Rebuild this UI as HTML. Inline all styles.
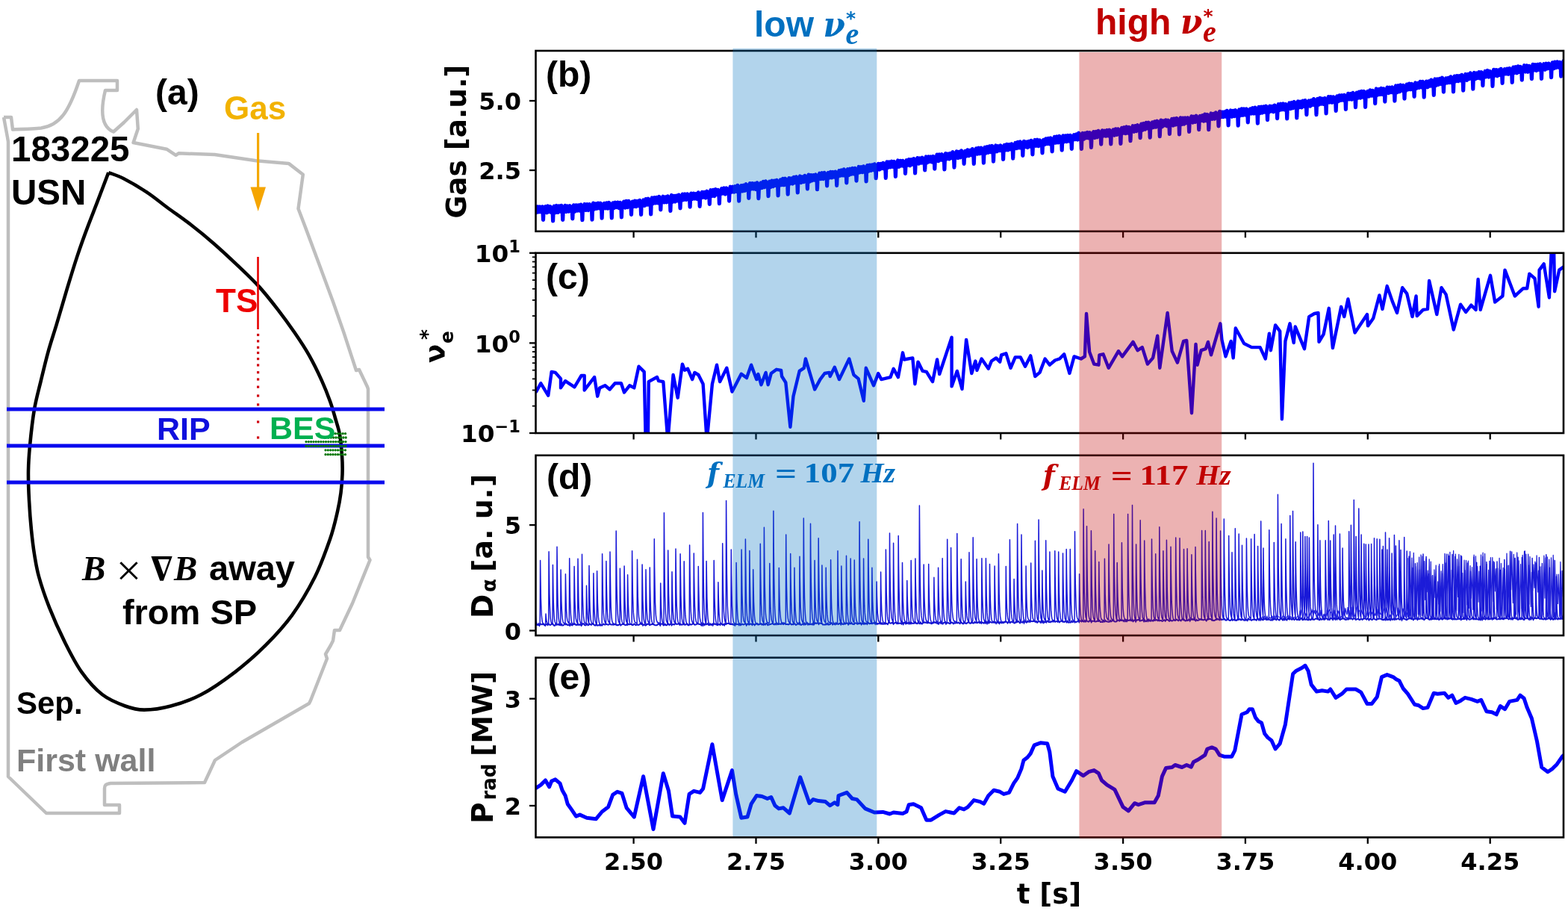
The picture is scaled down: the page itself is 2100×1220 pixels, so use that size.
<!DOCTYPE html>
<html><head><meta charset="utf-8"><title>Figure</title>
<style>html,body{margin:0;padding:0;background:#fff;}svg{display:block;}</style>
</head><body>
<svg width="2100" height="1220" viewBox="0 0 2100 1220">
<defs><clipPath id="clipb"><rect x="717.5" y="68" width="1376.5" height="241.8"/></clipPath>
<clipPath id="clipc"><rect x="717.5" y="338.8" width="1376.5" height="241.2"/></clipPath>
<clipPath id="clipd"><rect x="717.5" y="609.8" width="1376.5" height="241.2"/></clipPath>
<clipPath id="clipe"><rect x="717.5" y="880.7" width="1376.5" height="240.7"/></clipPath></defs>
<rect width="2100" height="1220" fill="#fff"/>
<path d="M5,157 L15,157 L17,173.5 C30,173 45,172.5 55,171.5 C80,168 92,150 106,108 L157,108 L157,121 L141,121 C134,150 136,170 152,176.5 L166,164 L183,147 L184.8,172.5 L178.6,191 L223.1,199.7 L235.5,207.8 L239.2,205.3 L287.5,207.1 L343.2,215.2 L386.6,218.9 L405.8,233.8 L399.5,279.5 L408.7,303.6 L426,350 L446,404 L460,444 L477,496 L481,495 L492,518 L493,521 L493,746 L495.5,750 L472,808 L455,844 L448,844 L446,858 L443,864 L436,876 L438,882 L416,938 L414,942 L324,994 L288,1018 L274,1048 L148,1049 C141,1050 140,1052 140,1056 L140,1078 L160,1078 L160,1089 L62,1089 L11,1040 L11,190 L10,184 L5,157" fill="none" stroke="#bebebe" stroke-width="4.5" stroke-linejoin="round"/>
<path d="M145.3,231.1 C148.8,232.5 157.6,235.1 166.2,239.5 C174.8,243.9 187.1,251.1 196.9,257.6 C206.7,264.1 215.1,271.3 224.8,278.5 C234.6,285.7 245.2,292.9 255.4,300.8 C265.6,308.7 275.4,316.6 286.1,325.9 C296.8,335.2 309.3,346.9 319.5,356.6 C329.7,366.4 338.6,374.6 347.4,384.4 C356.2,394.1 364.6,404.9 372.5,415.1 C380.4,425.3 387.8,435.6 394.8,445.8 C401.8,456 408.3,465.7 414.3,476.4 C420.3,487.1 426.4,499.7 431,509.9 C435.6,520.1 439.2,529.4 442.2,537.7 C445.2,546.1 446.9,552.6 449,560 C451.1,567.4 453.5,573.7 455,582 C456.5,590.3 457.4,601.2 458,610 C458.6,618.8 458.8,626.7 458.5,635 C458.2,643.3 457.6,651.7 456.5,660 C455.4,668.3 454.4,674.7 452,685 C449.6,695.3 447.1,707.4 442,722 C436.9,736.6 430.1,755.9 421.7,772.8 C413.2,789.7 402.3,808.4 391.3,823.6 C380.3,838.8 368.4,851.5 355.7,864.2 C343,876.9 329.4,888.8 315,899.8 C300.6,910.8 283.7,922.7 269.3,930.3 C254.9,937.9 241.4,942.1 228.7,945.5 C216,948.9 203.3,950.6 193.1,950.6 C182.9,950.6 177,948.9 167.7,945.5 C158.4,942.1 146.9,937.9 137.2,930.3 C127.4,922.7 117.7,911.7 109.2,899.8 C100.7,887.9 93.6,873.5 86.4,859.1 C79.2,844.7 71.7,827.9 66,813.4 C60.3,798.9 55.3,783.9 52,772 C48.7,760.1 47.7,752.3 46,742 C44.3,731.7 43.2,722 42,710 C40.8,698 39.7,683.3 39,670 C38.3,656.7 37.8,642.2 38,630 C38.2,617.8 38.7,610.7 40,597 C41.3,583.3 43.5,562.5 46,548 C48.5,533.5 51.7,522.8 54.8,509.9 C57.9,497 61.1,483.4 64.6,470.8 C68.1,458.2 71.5,448.5 75.7,434.6 C79.9,420.7 85.1,402.5 89.7,387.2 C94.3,371.9 99,356.5 103.6,342.6 C108.2,328.7 112.8,316.1 117.5,303.6 C122.2,291.1 126.9,279.5 131.5,267.4 C136.1,255.3 143,237.1 145.3,231.1" fill="none" stroke="#000" stroke-width="4.6" stroke-linejoin="miter"/>
<line x1="9" y1="548" x2="515" y2="548" stroke="#0a0aee" stroke-width="5"/>
<line x1="9" y1="597" x2="515" y2="597" stroke="#0a0aee" stroke-width="5"/>
<line x1="9" y1="646" x2="515" y2="646" stroke="#0a0aee" stroke-width="5"/>
<line x1="345.5" y1="344" x2="345.5" y2="441" stroke="#e80000" stroke-width="2.6"/>
<rect x="344" y="446.9" width="3.2" height="3.2" fill="#d00010"/>
<rect x="344" y="455.3" width="3.2" height="3.2" fill="#d00010"/>
<rect x="344" y="463.7" width="3.2" height="3.2" fill="#d00010"/>
<rect x="344" y="470.9" width="3.2" height="3.2" fill="#d00010"/>
<rect x="344" y="479" width="3.2" height="3.2" fill="#d00010"/>
<rect x="344" y="487.4" width="3.2" height="3.2" fill="#d00010"/>
<rect x="344" y="497.1" width="3.2" height="3.2" fill="#d00010"/>
<rect x="344" y="506.4" width="3.2" height="3.2" fill="#d00010"/>
<rect x="344" y="516.6" width="3.2" height="3.2" fill="#d00010"/>
<rect x="344" y="528.4" width="3.2" height="3.2" fill="#d00010"/>
<rect x="344" y="540.3" width="3.2" height="3.2" fill="#d00010"/>
<rect x="344" y="563.4" width="3.2" height="3.2" fill="#d00010"/>
<rect x="344" y="584.4" width="3.2" height="3.2" fill="#d00010"/>
<line x1="345.6" y1="178" x2="345.6" y2="254" stroke="#f4a800" stroke-width="3.2"/>
<polygon points="335.5,250.5 356,250.5 345.7,283" fill="#f5a500"/>
<line x1="446" y1="580.7" x2="463.5" y2="580.7" stroke="#0a780a" stroke-width="3.3" stroke-linecap="round" stroke-dasharray="0.01 3.3"/>
<line x1="440" y1="586" x2="463.5" y2="586" stroke="#0a780a" stroke-width="3.3" stroke-linecap="round" stroke-dasharray="0.01 3.3"/>
<line x1="410" y1="591.6" x2="463.5" y2="591.6" stroke="#0a780a" stroke-width="3.3" stroke-linecap="round" stroke-dasharray="0.01 3.3"/>
<line x1="410" y1="597.3" x2="463.5" y2="597.3" stroke="#0a780a" stroke-width="3.3" stroke-linecap="round" stroke-dasharray="0.01 3.3"/>
<line x1="436" y1="602.8" x2="463.5" y2="602.8" stroke="#0a780a" stroke-width="3.3" stroke-linecap="round" stroke-dasharray="0.01 3.3"/>
<line x1="436" y1="608.7" x2="463.5" y2="608.7" stroke="#0a780a" stroke-width="3.3" stroke-linecap="round" stroke-dasharray="0.01 3.3"/>
<text x="208" y="140" style="font-family:'Liberation Sans',Arial,sans-serif;font-weight:bold;font-size:48px" fill="#000">(a)</text>
<text x="300" y="160" style="font-family:'Liberation Sans',Arial,sans-serif;font-weight:bold;font-size:44px" fill="#f2b200">Gas</text>
<text x="15" y="216" style="font-family:'Liberation Sans',Arial,sans-serif;font-weight:bold;font-size:47.5px" fill="#000">183225</text>
<text x="15" y="274" style="font-family:'Liberation Sans',Arial,sans-serif;font-weight:bold;font-size:47.5px" fill="#000">USN</text>
<text x="289" y="418" style="font-family:'Liberation Sans',Arial,sans-serif;font-weight:bold;font-size:44px" fill="#ee0000">TS</text>
<text x="210" y="589" style="font-family:'Liberation Sans',Arial,sans-serif;font-weight:bold;font-size:43px" fill="#1010dd">RIP</text>
<text x="361" y="588" style="font-family:'Liberation Sans',Arial,sans-serif;font-weight:bold;font-size:43px" fill="#00b050">BES</text>
<text x="110" y="777" style="font-family:'Liberation Serif','DejaVu Serif',serif;font-style:italic;font-weight:bold;font-size:47px">B</text>
<text x="172.5" y="783.5" text-anchor="middle" style="font-family:'Liberation Serif','DejaVu Serif',serif;font-size:60px">×</text>
<text transform="translate(216.5,778) scale(-0.88,1)" text-anchor="middle" style="font-family:'DejaVu Serif',serif;font-weight:bold;font-size:45px">∇</text>
<text x="233" y="777" style="font-family:'Liberation Serif','DejaVu Serif',serif;font-style:italic;font-weight:bold;font-size:47px">B</text>
<text x="280" y="777" style="font-family:'Liberation Sans',Arial,sans-serif;font-weight:bold;font-size:47px">away</text>
<text x="254" y="836" text-anchor="middle" style="font-family:'Liberation Sans',Arial,sans-serif;font-weight:bold;font-size:47px" fill="#000">from SP</text>
<text x="22" y="956" style="font-family:'Liberation Sans',Arial,sans-serif;font-weight:bold;font-size:42px" fill="#000">Sep.</text>
<text x="22" y="1033" style="font-family:'Liberation Sans',Arial,sans-serif;font-weight:bold;font-size:43px" fill="#808080">First wall</text>
<g clip-path="url(#clipb)"><polyline points="712,284.5 713.6,276.6 715.2,285 716.8,276.5 718.4,284.8 720,276.9 721.6,283.9 723.2,277 724.8,283.8 726.4,276.8 726.9,280.6 727.5,294.4 728.1,280.6 729.1,283.7 730.7,276.6 732.3,284.8 733.9,276 735.5,283.7 737.1,276.7 738.7,284.8 740,280.2 740.6,296 741.2,280.2 742.2,276.2 743.8,284.7 745.4,275.5 747,284.4 748.6,275.8 750.2,283.1 751.8,275.4 753.1,279.8 753.7,294.5 754.3,279.8 755.3,284 756.9,275.3 758.5,283.5 760.1,276 761.7,283.1 763.3,275.7 764.9,282.5 766.2,279.3 766.8,293 767.4,279.3 768.4,274.9 770,283.1 771.6,274.9 773.2,282.2 774.8,274.9 776.4,282.1 778,274.1 779.3,278 779.9,294.7 780.5,278 781.5,282 783.1,273.5 784.7,281.4 786.3,273.6 787.9,281.6 789.5,273.6 791.1,280.3 792.4,276.7 793,294.1 793.6,276.7 794.6,272.1 796.2,280 797.8,272.8 799.4,279.3 801,272.1 802.6,278.9 804.2,272.2 805.5,275.7 806.1,292.2 806.7,275.7 807.7,279.5 809.3,272.3 810.9,278.9 812.5,271.8 814.1,279.2 815.7,271.5 817.3,278.8 818.7,275 819.3,291.8 819.9,275 820.9,271.8 822.5,278.5 824.1,271.2 825.7,277.7 827.3,271.1 828.9,278.5 830.5,271.3 831.8,274.3 832.4,291 833,274.3 834,277.6 835.6,270.1 837.2,278.1 838.8,269.3 840.4,277.6 842,269.4 843.6,276.8 844.9,273.5 845.5,287.3 846.1,273.5 847.1,270.1 848.7,276.6 850.3,269.1 851.9,276.6 853.5,269.5 855.1,275.6 856.7,268.3 858,271.8 858.6,287.5 859.2,271.8 860.2,276 861.8,268 863.4,275.4 865,266.6 866.6,274.2 868.2,266.2 869.8,274.4 871.1,269.6 871.7,287 872.3,269.6 873.3,265 874.9,272.4 876.5,264.6 878.1,271.9 879.7,264.4 881.3,271.9 882.9,263.5 884.2,267.5 884.8,281 885.4,267.5 886.4,271 888,263.2 889.6,270.9 891.2,263.8 892.8,270.8 894.4,262.8 896,270.4 897.3,266.2 897.9,282.4 898.5,266.2 899.5,261.5 901.1,270.3 902.7,262.4 904.3,270 905.9,262.1 907.5,268.9 909.1,261.1 910.4,264.9 911,278.8 911.6,264.9 912.6,268.8 914.2,260.1 915.8,267.5 917.4,260 919,267.4 920.6,259.9 922.2,266.9 923.5,263.6 924.1,277.1 924.7,263.6 925.7,259.1 927.3,266.4 928.9,259.1 930.5,266 932.1,259.6 933.7,266.5 935.3,257.9 936.6,261.9 937.2,276.4 937.8,261.9 938.8,265.2 940.4,257.3 942,264.2 943.6,257.5 945.2,265 946.8,256.2 948.4,263.6 949.7,259.4 950.3,273.3 950.9,259.4 951.9,254.7 953.5,262.4 955.1,254.4 956.7,262.6 958.3,253.6 959.9,260.7 961.5,254.3 962.8,257 963.4,272.6 964,257 965,259.9 966.6,252.6 968.2,259.1 969.8,252 971.4,260 973,252 974.6,259 976,254.5 976.6,269.1 977.2,254.5 978.2,250.2 979.8,257.2 981.4,250.2 983,257.2 984.6,249.7 986.2,256.4 987.8,248.4 989.1,252.3 989.7,269.1 990.3,252.3 991.3,256.7 992.9,248.6 994.5,255.9 996.1,248.1 997.7,255.3 999.3,246.7 1000.9,254.5 1002.2,250.4 1002.8,265.3 1003.4,250.4 1004.4,245.6 1006,253 1007.6,245.6 1009.2,252.9 1010.8,245.8 1012.4,253.5 1014,244.9 1015.3,248.5 1015.9,265.7 1016.5,248.5 1017.5,252.8 1019.1,245 1020.7,251.4 1022.3,243.3 1023.9,250.7 1025.5,242.8 1027.1,250.2 1028.4,246.6 1029,262.6 1029.6,246.6 1030.6,243.2 1032.2,250.5 1033.8,242.1 1035.4,249.7 1037,242.1 1038.6,248.3 1040.2,241.4 1041.5,244.7 1042.1,261.8 1042.7,244.7 1043.7,248.7 1045.3,240.8 1046.9,247.7 1048.5,239.4 1050.1,247.8 1051.7,239.2 1053.3,247.3 1054.6,242.8 1055.2,260.1 1055.8,242.8 1056.8,238.6 1058.4,245.9 1060,239 1061.6,246 1063.2,237.3 1064.8,244.6 1066.4,236.8 1067.7,240.8 1068.3,258 1068.9,240.8 1069.9,244.9 1071.5,236 1073.1,244.5 1074.7,236.9 1076.3,243.7 1077.9,235.4 1079.5,243.1 1080.8,238.9 1081.4,253 1082,238.9 1083,234.1 1084.6,243 1086.2,234.6 1087.8,241.8 1089.4,234.6 1091,241.2 1092.6,234 1093.9,236.9 1094.5,253.7 1095.1,236.9 1096.1,240 1097.7,232.2 1099.3,239.7 1100.9,231.7 1102.5,239.6 1104.1,231.3 1105.7,238.9 1107,234.9 1107.6,248.9 1108.2,234.9 1109.2,231.5 1110.8,238 1112.4,230.3 1114,237.9 1115.6,230.5 1117.2,237.1 1118.8,230.1 1120.1,232.9 1120.7,248.4 1121.3,232.9 1122.3,236.5 1123.9,228.6 1125.5,235.2 1127.1,228 1128.7,234.9 1130.3,226.8 1131.9,235.4 1133.2,230.8 1133.8,245 1134.4,230.8 1135.4,226.7 1137,234.4 1138.6,226.2 1140.2,233.1 1141.8,225.5 1143.4,232.9 1145,225.3 1146.4,228.3 1147,242.2 1147.6,228.3 1148.6,231.9 1150.2,223.5 1151.8,230.8 1153.4,223.7 1155,230.6 1156.6,222.8 1158.2,230.4 1159.5,225.8 1160.1,242.9 1160.7,225.8 1161.7,221.6 1163.3,229.2 1164.9,221.1 1166.5,228.4 1168.1,220.8 1169.7,227.7 1171.3,219.9 1172.6,223.3 1173.2,238.7 1173.8,223.3 1174.8,227.6 1176.4,219.4 1178,227 1179.6,219.3 1181.2,225.6 1182.8,218.3 1184.4,226.3 1185.7,221.5 1186.3,238.4 1186.9,221.5 1187.9,216.9 1189.5,224.3 1191.1,217 1192.7,223.8 1194.3,216.2 1195.9,223.4 1197.5,216.5 1198.8,219.8 1199.4,236.4 1200,219.8 1201,224 1202.6,215 1204.2,223.3 1205.8,215.4 1207.4,221.9 1209,215.3 1210.6,222.8 1211.9,218 1212.5,232.4 1213.1,218 1214.1,214.7 1215.7,221.2 1217.3,213.6 1218.9,221.8 1220.5,213.7 1222.1,220 1223.7,212.6 1225,216.3 1225.6,231.8 1226.2,216.3 1227.2,219.6 1228.8,211.6 1230.4,219.2 1232,212 1233.6,218.2 1235.2,211.2 1236.8,218.4 1238.1,214.4 1238.7,227.9 1239.3,214.4 1240.3,210 1241.9,217.8 1243.5,209.8 1245.1,216.4 1246.7,210 1248.3,217 1249.9,209.5 1251.2,212.2 1251.8,226.1 1252.4,212.2 1253.4,215.4 1255,207.1 1256.6,215.7 1258.2,207 1259.8,214.1 1261.4,206.7 1263,214.8 1264.3,210.1 1264.9,226.8 1265.5,210.1 1266.5,205.6 1268.1,212.8 1269.7,206.1 1271.3,212.9 1272.9,205.3 1274.5,211.6 1276.1,203.7 1277.4,207.9 1278,224.2 1278.6,207.9 1279.6,211.3 1281.2,202.9 1282.8,211.6 1284.4,203.3 1286,210.9 1287.6,201.9 1289.2,210.4 1290.5,205.8 1291.1,219.5 1291.7,205.8 1292.7,202.3 1294.3,209 1295.9,200.9 1297.5,208.6 1299.1,201.3 1300.7,207.6 1302.3,199.6 1303.7,203.7 1304.3,219.3 1304.9,203.7 1305.9,206.8 1307.5,198.8 1309.1,206.2 1310.7,198.2 1312.3,205.8 1313.9,198.1 1315.5,205.5 1316.8,201.7 1317.4,218.2 1318,201.7 1319,197.3 1320.6,205 1322.2,196.7 1323.8,204.3 1325.4,195.9 1327,203.7 1328.6,195.5 1329.9,199.8 1330.5,216.2 1331.1,199.8 1332.1,203.4 1333.7,195 1335.3,202.8 1336.9,195.7 1338.5,201.7 1340.1,195 1341.7,201.8 1343,197.8 1343.6,213.3 1344.2,197.8 1345.2,194.3 1346.8,200.9 1348.4,193.3 1350,200.9 1351.6,193.6 1353.2,199.9 1354.8,192.9 1356.1,195.8 1356.7,212.2 1357.3,195.8 1358.3,199.6 1359.9,191.4 1361.5,198.7 1363.1,190.4 1364.7,197.9 1366.3,189.9 1367.9,198.4 1369.2,193.9 1369.8,208.5 1370.4,193.9 1371.4,189.4 1373,196.7 1374.6,190.1 1376.2,197.5 1377.8,189.4 1379.4,196.1 1381,188.3 1382.3,192.2 1382.9,206.9 1383.5,192.2 1384.5,195.8 1386.1,187.5 1387.7,195.3 1389.3,187.2 1390.9,195.7 1392.5,187.9 1394.1,194.6 1395.4,190.5 1396,205 1396.6,190.5 1397.6,187.3 1399.2,193.6 1400.8,185.8 1402.4,192.6 1404,185.4 1405.6,192.8 1407.2,185 1408.5,188.5 1409.1,202.8 1409.7,188.5 1410.7,192.1 1412.3,183.4 1413.9,191.2 1415.5,183 1417.1,190.9 1418.7,182.4 1420.3,189.7 1421.6,186.4 1422.2,201.1 1422.8,186.4 1423.8,181.9 1425.4,189.8 1427,181.9 1428.6,189.6 1430.2,181.5 1431.8,189 1433.4,181.4 1434.7,184.3 1435.3,199.3 1435.9,184.3 1436.9,187.5 1438.5,180.7 1440.1,186.7 1441.7,179.8 1443.3,187 1444.9,178.2 1446.5,186.8 1447.8,182.3 1448.4,199.3 1449,182.3 1450,178.5 1451.6,186.1 1453.2,178.4 1454.8,184.7 1456.4,177.5 1458,184.9 1459.6,177.7 1460.9,180.7 1461.5,197.4 1462.1,180.7 1463.1,184.8 1464.7,176.6 1466.3,184.5 1467.9,176.4 1469.5,183.8 1471.1,175.3 1472.7,182.4 1474.1,179.1 1474.7,193.1 1475.3,179.1 1476.3,174.9 1477.9,181.9 1479.5,175.2 1481.1,182.2 1482.7,174.5 1484.3,181.9 1485.9,174.2 1487.2,177.5 1487.8,192.9 1488.4,177.5 1489.4,180.3 1491,173.8 1492.6,181.1 1494.2,172.9 1495.8,180.4 1497.4,172.8 1499,179.2 1500.3,175.8 1500.9,192.3 1501.5,175.8 1502.5,171.3 1504.1,178.3 1505.7,170.7 1507.3,178.7 1508.9,170 1510.5,178.1 1512.1,170.5 1513.4,173.2 1514,188.7 1514.6,173.2 1515.6,176.5 1517.2,168.7 1518.8,176.3 1520.4,168.6 1522,175.6 1523.6,167.7 1525.2,174.1 1526.5,170.6 1527.1,184.7 1527.7,170.6 1528.7,166.1 1530.3,174.1 1531.9,165.5 1533.5,173.2 1535.1,164.4 1536.7,171.8 1538.3,164.2 1539.6,168 1540.2,184.1 1540.8,168 1541.8,171.7 1543.4,163.8 1545,170.5 1546.6,162.9 1548.2,170.1 1549.8,162.2 1551.4,169 1552.7,165.6 1553.3,182.7 1553.9,165.6 1554.9,161.1 1556.5,169.8 1558.1,161.9 1559.7,167.9 1561.3,160.8 1562.9,168.8 1564.5,161.2 1565.8,164 1566.4,179.3 1567,164 1568,167.3 1569.6,159.4 1571.2,168 1572.8,159 1574.4,167 1576,158.5 1577.6,166.5 1578.9,162.5 1579.5,179.8 1580.1,162.5 1581.1,157.9 1582.7,166.4 1584.3,158.1 1585.9,166.1 1587.5,158 1589.1,164.7 1590.7,157.9 1592,160.9 1592.6,176.3 1593.2,160.9 1594.2,163.7 1595.8,155.9 1597.4,164.1 1599,156.2 1600.6,163.4 1602.2,155.2 1603.8,162.9 1605.1,159 1605.7,173.7 1606.3,159 1607.3,155.4 1608.9,161.4 1610.5,154.7 1612.1,162.1 1613.7,153.1 1615.3,161.7 1616.9,153.5 1618.2,156.6 1618.8,173.7 1619.4,156.6 1620.4,159.8 1622,152 1623.6,159.3 1625.2,152.4 1626.8,159.1 1628.4,150.8 1630,158.2 1631.4,154.2 1632,168.8 1632.6,154.2 1633.6,149.4 1635.2,156.8 1636.8,150.1 1638.4,156.6 1640,149.9 1641.6,156.2 1643.2,148.4 1644.5,152.4 1645.1,167.9 1645.7,152.4 1646.7,155.5 1648.3,148 1649.9,156.3 1651.5,148.4 1653.1,155.7 1654.7,147.7 1656.3,155.5 1657.6,150.8 1658.2,168.1 1658.8,150.8 1659.8,146.9 1661.4,154.6 1663,145.8 1664.6,154.3 1666.2,146 1667.8,153.9 1669.4,146 1670.7,149.3 1671.3,164 1671.9,149.3 1672.9,152.2 1674.5,145.8 1676.1,152 1677.7,144.7 1679.3,152 1680.9,144.1 1682.5,152.2 1683.8,147.8 1684.4,165.2 1685,147.8 1686,143.4 1687.6,151.5 1689.2,143.1 1690.8,151 1692.4,142.9 1694,150 1695.6,142.2 1696.9,146.3 1697.5,160.6 1698.1,146.3 1699.1,150.6 1700.7,142.1 1702.3,149 1703.9,142.3 1705.5,149.8 1707.1,141.1 1708.7,147.9 1710,144.4 1710.6,158.7 1711.2,144.4 1712.2,139.7 1713.8,147.5 1715.4,139.2 1717,146.8 1718.6,139 1720.2,146.9 1721.8,139.6 1723.1,142.5 1723.7,159 1724.3,142.5 1725.3,145.9 1726.9,138 1728.5,145.6 1730.1,137.5 1731.7,144.8 1733.3,136.5 1734.9,144.2 1736.2,140.5 1736.8,157.9 1737.4,140.5 1738.4,135.9 1740,143.8 1741.6,136.2 1743.2,143.9 1744.8,135.1 1746.4,142.5 1748,134.6 1749.3,138.5 1749.9,153.6 1750.5,138.5 1751.5,142 1753.1,135 1754.7,142.2 1756.3,134.4 1757.9,140.4 1759.5,132.6 1761.1,141 1762.4,136.6 1763,153.7 1763.6,136.6 1764.6,132.5 1766.2,140.1 1767.8,131.3 1769.4,139.2 1771,132.2 1772.6,139.4 1774.2,131.6 1775.5,134.5 1776.1,151.9 1776.7,134.5 1777.7,137.7 1779.3,129.6 1780.9,137 1782.5,129.7 1784.1,137.3 1785.7,129.9 1787.3,136.9 1788.6,132.4 1789.2,148.5 1789.8,132.4 1790.8,128.8 1792.4,135.6 1794,127.9 1795.6,134.4 1797.2,127.7 1798.8,134.2 1800.4,127.4 1801.8,130.3 1802.4,146.4 1803,130.3 1804,133.5 1805.6,125.4 1807.2,132.9 1808.8,125.6 1810.4,133.1 1812,124.3 1813.6,131.6 1814.9,128.1 1815.5,143.7 1816.1,128.1 1817.1,124.2 1818.7,131.2 1820.3,123.1 1821.9,131.1 1823.5,122.3 1825.1,130.1 1826.7,122.5 1828,126 1828.6,143.4 1829.2,126 1830.2,129.8 1831.8,122.3 1833.4,129 1835,120.8 1836.6,128.1 1838.2,121.4 1839.8,128.3 1841.1,123.9 1841.7,138.6 1842.3,123.9 1843.3,119 1844.9,127.1 1846.5,119.6 1848.1,126.5 1849.7,118.4 1851.3,126.4 1852.9,118.9 1854.2,121.7 1854.8,136.1 1855.4,121.7 1856.4,124.5 1858,117.1 1859.6,124.6 1861.2,117.2 1862.8,123.7 1864.4,116.8 1866,124.1 1867.3,119.6 1867.9,135.1 1868.5,119.6 1869.5,115 1871.1,123.6 1872.7,114.7 1874.3,122.8 1875.9,114 1877.5,121.3 1879.1,114.3 1880.4,117.4 1881,132.1 1881.6,117.4 1882.6,121.7 1884.2,113.1 1885.8,119.9 1887.4,112.1 1889,119.8 1890.6,112.3 1892.2,120.1 1893.5,115.3 1894.1,129.4 1894.7,115.3 1895.7,111 1897.3,118.1 1898.9,111.4 1900.5,117.4 1902.1,109.4 1903.7,116.8 1905.3,109.4 1906.6,113 1907.2,130.1 1907.8,113 1908.8,117.2 1910.4,109.1 1912,116.8 1913.6,108.8 1915.2,115.2 1916.8,107.1 1918.4,115.6 1919.7,110.8 1920.3,127.3 1920.9,110.8 1921.9,106 1923.5,114.3 1925.1,106 1926.7,113.3 1928.3,105.3 1929.9,112.4 1931.5,104.2 1932.8,108.5 1933.4,123.1 1934,108.5 1935,111.8 1936.6,104.9 1938.2,110.9 1939.8,104.3 1941.4,110.5 1943,102.8 1944.6,110.9 1945.9,106.2 1946.5,123 1947.1,106.2 1948.1,102.1 1949.7,108.8 1951.3,101.6 1952.9,108.7 1954.5,101.7 1956.1,107.9 1957.7,100.3 1959.1,104 1959.7,121.1 1960.3,104 1961.3,106.7 1962.9,99.5 1964.5,107.4 1966.1,99.5 1967.7,105.7 1969.3,97.8 1970.9,105.3 1972.2,101.9 1972.8,119.1 1973.4,101.9 1974.4,97.5 1976,105.6 1977.6,98 1979.2,104.5 1980.8,96.6 1982.4,105 1984,96.7 1985.3,100 1985.9,114.6 1986.5,100 1987.5,103.9 1989.1,95.5 1990.7,102.8 1992.3,94.5 1993.9,103.1 1995.5,95.5 1997.1,102.4 1998.4,98.1 1999,115.4 1999.6,98.1 2000.6,93.4 2002.2,101.1 2003.8,93.6 2005.4,101.8 2007,93.9 2008.6,100.4 2010.2,92.4 2011.5,96.3 2012.1,111.5 2012.7,96.3 2013.7,99.8 2015.3,92.7 2016.9,98.9 2018.5,92.1 2020.1,99.3 2021.7,91.6 2023.3,98.9 2024.6,94.4 2025.2,110.3 2025.8,94.4 2026.8,90.1 2028.4,97.5 2030,89.7 2031.6,97.8 2033.2,88.8 2034.8,96.4 2036.4,89.5 2037.7,92.7 2038.3,107.2 2038.9,92.7 2039.9,95.6 2041.5,87.7 2043.1,96 2044.7,87.8 2046.3,96.3 2047.9,88.3 2049.5,95.9 2050.8,91.1 2051.4,105.7 2052,91.1 2053,86.4 2054.6,93.9 2056.2,86.7 2057.8,94.5 2059.4,86.3 2061,93.3 2062.6,85.8 2063.9,89.5 2064.5,105.5 2065.1,89.5 2066.1,93.4 2067.7,85.7 2069.3,93.3 2070.9,85.2 2072.5,91.8 2074.1,85.1 2075.7,91.7 2077,88 2077.6,103.7 2078.2,88 2079.2,83.8 2080.8,91.8 2082.4,83.1 2084,90.6 2085.6,82.8 2087.2,90.1 2088.8,83.4 2090.1,86.4 2090.7,102.2 2091.3,86.4 2092.3,89.7 2093.9,82 2095.5,90.6 2097.1,82.2 2098.7,89.4" fill="none" stroke="#0000ff" stroke-width="5.2" stroke-linejoin="round" stroke-linecap="round"/></g>
<g clip-path="url(#clipc)"><polyline points="712,526 718.2,524.5 724.3,513.3 734.2,529.6 738.7,497.9 743.8,498.9 751,507.1 751,519.4 757.1,510.2 769.4,518.4 778.6,503 782.7,503 782.7,522.5 796.1,505.1 800.2,530.7 803.2,519.4 810.4,516.3 816.6,521.5 823.7,513.3 831.9,513.3 836,525.5 843.2,516.3 849.3,519.4 855.5,490.7 862.7,497.9 864.7,590 867.8,590 868.8,511.2 880,505 882.1,510.2 888.3,511.2 894.4,590 901.6,502 907.7,532.7 913.9,487.6 917,495.8 921.1,493.8 927.2,508.1 930.3,498.9 935.4,502 941.6,514.3 946.7,590 953.9,514.3 960,488.7 964.1,511.2 973.3,492.8 980.5,524.5 992.8,500.8 1000,506.1 1006.1,488.7 1010.2,500 1013.3,508.1 1015.4,501 1019.5,515.3 1025.6,498.9 1028.7,515.3 1032.8,500 1040,494.8 1046.1,495.8 1047.1,504 1052.3,512.2 1058.4,571.7 1062.5,530.7 1070.7,496.9 1076.8,492.8 1078.9,480.5 1091.2,521.5 1098.4,508.1 1104.5,500 1110.7,498.9 1111.7,504 1117.8,491.7 1124,508.1 1137.3,480.5 1143.4,502 1149.6,507.1 1156.8,536.8 1159.8,492.8 1170.1,516.3 1176.2,500 1180.3,508.1 1192.6,505.1 1196.7,493.8 1202.9,505.1 1209,472.3 1211.1,481.5 1222.3,479.4 1225.4,514.3 1229.5,484.6 1235.7,496.9 1240.8,497.9 1249,511.2 1255.1,481.5 1258.2,501 1274.6,451.8 1274.6,517.4 1281.8,496.9 1288.5,521 1294.1,454.9 1301.3,500 1306.4,483.5 1308.4,495.8 1314.6,480.5 1323.8,493.8 1327.9,483.5 1334.1,479.4 1339.2,484.6 1341.2,475.3 1347.4,473.3 1353.5,492.8 1359.7,478.4 1366.8,478.4 1373,490.7 1380.2,476.4 1386.3,504 1392.5,498.9 1399.6,480.5 1405.8,488.7 1413,482.5 1419.1,480.5 1425.2,474.3 1432.4,500 1438.6,477.4 1447.8,480.5 1452.9,477.4 1455,420 1459.1,471.2 1465.2,487.6 1471.4,488.7 1472.4,475.3 1477.5,474.3 1484.7,492.8 1498,470.2 1503.1,477.4 1517.5,457.9 1523.6,469.2 1529.8,465.1 1536.9,487.6 1544.1,479.4 1550.2,449.7 1553.3,492.8 1563.6,419 1569.7,470.2 1576.9,485.6 1585.1,456.9 1589.2,455.9 1596,553.2 1601.5,461 1603.6,488.7 1608.7,469.2 1614.8,467.1 1617.9,457.9 1622,475.3 1634.3,433.3 1636.4,454.9 1641.5,477.4 1648.6,456.9 1651.7,479.4 1654.8,439.5 1666.1,460 1676.3,465.1 1687.6,465.1 1694.8,480.5 1699.9,446.7 1701.9,469.2 1708.1,435.4 1714.2,443.6 1716.9,561.4 1721.4,456.9 1727.5,433.3 1732.7,459 1734.7,437.4 1747,467.1 1753.2,424.1 1760.3,420 1765.5,419 1766.5,457.9 1772.6,447.7 1779.8,412.8 1784.9,466.1 1796.2,410.8 1800.3,424.1 1805.4,400.5 1814.6,445.6 1831,421 1832,436.4 1839.2,426.2 1847.4,395.4 1851.5,413.9 1857.7,383.1 1864.8,403.6 1871,419 1878.2,385.2 1884.3,393.4 1891.5,424.1 1896.6,396.5 1897.7,423.1 1905.9,414.9 1912,413.9 1914.1,376 1924.3,421 1930.5,385.2 1936.6,394.4 1946.8,441.5 1956.1,407.7 1963.2,418 1970.4,408.7 1976.6,414.9 1979.6,373.9 1982.7,414.9 1996,368.8 2002.2,404.6 2012.4,396.5 2015.5,361.6 2028.8,396.5 2040.1,386.2 2045.2,386.2 2048.3,366.7 2055.5,372.9 2060.6,410.8 2061.6,361.6 2067.7,353.4 2074.9,398.5 2078,330 2081,330 2082.1,390.3 2088.2,361.6 2096,356" fill="none" stroke="#0000ff" stroke-width="4.4" stroke-linejoin="round"/></g>
<g clip-path="url(#clipd)"><path d="M715.8,837.1 L716.2,790 L716.6,804.8 L717,817.9 L717.5,825.5 L717.9,829.5 L718.4,832.9 L718.8,834.7 L719.2,835.9 L719.7,836 L720.2,837 L720.6,836.8 L721.1,836.9 L721.5,837.4 L722,836.6 L722.4,837.3 L722.9,837.2 L723.2,835.6 M723.2,836.9 L723.6,750.4 L724,778.1 L724.4,801.3 L724.9,815.3 L725.3,824.1 L725.8,828.6 L726.2,832 L726.6,833.9 L727.1,835.1 L727.6,836.1 L728,836 L728.5,836.8 L728.9,836.5 L729.4,836.7 L729.8,836.5 L730.2,836.8 L730.6,837.1 M730.6,836.3 L731,822 L731.4,826.9 L731.8,830.3 L732.2,832.6 L732.7,834 L733.1,835.1 L733.6,835.7 L734,836.1 L734.5,835.6 L735,836.4 L734.7,836.9 M734.7,836.1 L735.1,738.7 L735.5,769.6 L735.9,795.8 L736.4,811.3 L736.8,821 L737.2,827.6 L737.7,830.8 L738.1,832.9 L738.6,834.4 L739.1,835.3 L739.5,835.5 L740,835.7 L740,836.3 M740,836.4 L740.4,756.5 L740.8,782.3 L741.2,803.8 L741.6,816.2 L742.1,824.5 L742.5,829.1 L743,832.2 L743.4,833.3 L743.9,834.5 L744.4,835 L744.8,836.1 L745.2,836.5 L745.7,836.4 L745.6,835.6 M745.6,836.7 L746,732.3 L746.4,766.2 L746.8,793.9 L747.2,810.4 L747.7,820.7 L748.1,827.1 L748.6,830.7 L749,833.1 L749.5,834.7 L750,835.9 L750.4,835.5 L750.9,836.3 L750.7,834.8 M750.7,835 L751.1,762.9 L751.5,786.4 L751.9,805.4 L752.4,817.5 L752.8,824.1 L753.2,827.9 L753.7,830.9 L754.1,832.7 L754.6,834 L755.1,834.6 L755.5,834.5 L756,834.6 L756.4,834.4 L756.9,835 L757.3,834.7 L757,835.1 M757,834.8 L757.4,768.8 L757.8,789.6 L758.2,807.8 L758.6,817.9 L759.1,825.3 L759.5,828.3 L760,831.5 L760.4,832.2 L760.9,832.9 L761.4,834.2 L761.8,834 L762.2,834.7 L762.7,834.3 L762.3,834.8 M762.3,836.6 L762.7,747.7 L763.1,776.5 L763.5,800.4 L764,814.6 L764.4,822.7 L764.9,828.6 L765.3,831.8 L765.8,833.5 L766.2,835.2 L766.7,835.2 L767.1,836.4 L767.6,836.4 L768,835.8 L768.5,835.9 L768.9,836.6 L768.7,836.7 M768.7,834.9 L769.1,758.6 L769.5,783 L769.9,803.8 L770.4,815.5 L770.8,823.7 L771.2,827.9 L771.7,830.2 L772.1,832.2 L772.6,833.4 L773.1,833.9 L773.5,834.5 L774,834.2 L773.6,836.6 M773.6,835.6 L774,748.3 L774.4,776.6 L774.8,799.8 L775.2,813.7 L775.7,822.3 L776.1,827.9 L776.6,831.2 L777,832.9 L777.5,833.9 L778,834.3 L778.4,834.5 L778.9,835.6 L779.3,835.5 L779.1,836.7 M779.1,835.5 L779.5,742.2 L779.9,772.4 L780.3,797.6 L780.8,812.6 L781.2,821.5 L781.6,826.7 L782.1,830.2 L782.5,832.7 L783,833.5 L783.5,834.5 L783.9,834.9 L784.4,835.5 L784.8,835.5 L785.2,835.1 L785.1,834.7 M785.1,835.3 L785.5,784.2 L785.9,800.6 L786.3,814.4 L786.8,822.9 L787.2,828 L787.6,830.2 L788.1,832.8 L788.5,833.9 L788.6,836.8 M788.6,836 L789,757.5 L789.4,782.6 L789.8,804.1 L790.2,816.8 L790.7,824.4 L791.1,829.3 L791.6,831.5 L792,833 L792.5,834.5 L793,835.4 L793.4,835.2 L793.9,835.9 L794.3,836.3 L794.8,835.6 L794.5,836.1 M794.5,836.3 L794.9,767.8 L795.2,789.8 L795.7,807.8 L796.1,819 L796.6,826.2 L797,830.3 L797.5,832.4 L797.9,833.6 L798.4,835.2 L798.9,835.7 L799.3,835.5 L799.2,836 M799.2,836.8 L799.6,764.7 L800,788.3 L800.4,807.2 L800.9,818.8 L801.3,826 L801.8,829.9 L802.2,832.5 L802.6,834.1 L803.1,835.5 L803.6,835.8 L804,836.3 L804.5,836.4 L804.9,836.6 L805.4,836.3 L805.8,836.3 L806.2,837.3 L806.2,835.5 M806.2,834.9 L806.6,741.8 L807,771.9 L807.4,796.9 L807.9,811.3 L808.3,820.9 L808.8,826.2 L809.2,829.7 L809.6,831.3 L810.1,832.5 L810.6,834.2 L811,834.6 L811.5,834.5 L811.5,836 M811.5,835.3 L811.9,751.4 L812.2,778.7 L812.7,800.7 L813.1,814.8 L813.6,822.8 L814,827.9 L814.5,831.1 L814.9,832.2 L815.4,833.1 L815.9,833.9 L816.3,834.3 L816.8,834.5 L816.6,834.7 M816.6,836 L817,739.1 L817.4,770.7 L817.8,796.1 L818.2,812.3 L818.7,821.7 L819.1,826.6 L819.6,830.7 L820,832.6 L820.5,833.6 L821,835.2 L821.4,835 L821.9,835.6 L822.3,835.8 L822.8,836.3 L823.2,836 L823.6,835.8 L824.8,835.7 M824.8,835 L825.2,711 L825.6,751.4 L826,784.5 L826.5,803.8 L826.9,815.8 L827.4,823.4 L827.8,827.9 L828.2,831.2 L828.7,832.9 L829.2,833.8 L829.6,833.6 L830.1,834.7 L830,836.3 M830,836.2 L830.4,761.2 L830.8,785.8 L831.2,804.9 L831.6,817.1 L832.1,825.1 L832.5,829.7 L833,832.2 L833.4,833.4 L833.9,834.7 L834.4,835.5 L834.8,835.2 L835.2,835.6 L835.7,835.7 L835.7,834.9 M835.7,835.7 L836.1,758 L836.5,782.7 L836.9,803.5 L837.4,816 L837.8,824.2 L838.2,828.1 L838.7,831.6 L839.1,832.8 L839.6,833.7 L840.1,835.2 L840.5,834.9 L840.2,836.8 M840.2,836.7 L840.6,769.8 L841,791.7 L841.4,808.8 L841.9,819.9 L842.3,826.1 L842.8,831 L843.2,833.3 L843.6,834.5 L844.1,835.2 L844.6,835.7 L845,836.5 L845.5,836.3 L845.9,836.6 L846.4,836.2 L846.2,835.1 M846.2,834.7 L846.6,737.7 L847,769.2 L847.4,794.9 L847.9,810.2 L848.3,820.4 L848.8,825.6 L849.2,829.2 L849.6,831.1 L850.1,832.5 L850.6,833.8 L851,833.8 L851.5,833.9 L851.9,834.4 L852.4,834.4 L852.8,835 L853.2,834.3 L853.1,836.9 M853.1,834.7 L853.5,749.3 L853.9,777.2 L854.3,799.8 L854.8,813.1 L855.2,821.8 L855.6,826.6 L856.1,829.7 L856.5,831.5 L857,832.8 L857.5,834.1 L857.9,834.6 L858.4,834.7 L858.8,834.1 L859.2,834.3 L859.7,835 L859.7,834.7 M859.7,836.3 L860.1,755.9 L860.5,781.6 L860.9,803.7 L861.4,815.8 L861.8,824.4 L862.2,828.8 L862.7,831.5 L863.1,833.1 L863.6,835 L864.1,835.3 L864.5,835.4 L865,835.9 L864.6,836.7 M864.6,835.1 L865,762.7 L865.4,786.1 L865.8,805 L866.2,816.7 L866.7,824.4 L867.1,828.6 L867.6,830.7 L868,832.2 L868.5,833.2 L869,834.3 L869.4,834.5 L869.9,834.5 L869.9,835 M869.9,836 L870.3,760 L870.6,784.7 L871.1,805.1 L871.5,817.1 L872,824.2 L872.4,828.6 L872.9,832 L873.3,833.3 L873.8,834.7 L874.2,834.6 L874.7,835.7 L875.1,835.5 L875.6,836.1 L876,836.2 L875.9,835.7 M875.9,834.6 L876.3,721.7 L876.6,758.5 L877.1,788.1 L877.5,806.8 L878,817.3 L878.4,823.9 L878.9,828.6 L879.3,830.6 L879.8,831.9 L880.2,833 L880.7,833.8 L881.1,833.5 L881.6,834.3 L882,834.3 L882.5,834.5 L882.9,834.1 L884.3,836.2 M884.3,836.5 L884.7,781.1 L885.1,799.3 L885.5,813.5 L886,822.9 L886.4,828 L886.9,831.6 L887.3,832.9 L887.8,835 L888.2,835.8 L888.7,835.8 L889.1,836.1 L889,835.8 M889,835.8 L889.4,686.8 L889.8,734.3 L890.2,775 L890.6,798.4 L891.1,812.9 L891.5,821.7 L892,827.2 L892.4,831.1 L892.9,832.3 L893.4,833.5 L893.8,834.9 L894.2,834.8 L894.7,834.9 L894.3,835.9 M894.3,835.9 L894.7,737 L895.1,768.9 L895.5,795.4 L896,810.8 L896.4,821.3 L896.9,827 L897.3,829.9 L897.8,832.2 L898.2,833.8 L898.7,834.6 L899.1,834.9 L899.6,835 L899.6,835.5 M899.6,834.8 L900,765.7 L900.4,788.1 L900.8,806.8 L901.2,817.2 L901.7,824.4 L902.1,828.7 L902.6,830.6 L903,832.8 L903.5,833.8 L904,833.8 L904.4,834.2 L904.9,834.8 L904.6,835.7 M904.6,835.4 L905,735 L905.4,767.8 L905.8,794.4 L906.2,810.2 L906.7,820 L907.1,826 L907.6,829.8 L908,832.5 L908.5,833.7 L909,834.6 L909.4,835 L909.9,835.3 L910.3,834.7 L910.8,835.3 L910.7,836.8 M910.7,836.7 L911.1,741.8 L911.5,772.1 L911.9,797.6 L912.4,813.2 L912.8,822.2 L913.2,828 L913.7,831 L914.1,833.4 L914.6,834.8 L915.1,835 L915.5,835.6 L916,836.7 L915.8,836.3 M915.8,836.7 L916.2,751.8 L916.6,779.3 L917,802.1 L917.5,815.9 L917.9,824.2 L918.4,828.4 L918.8,832.1 L919.2,833.6 L919.7,835.1 L920.2,835.4 L920.6,836.1 L921.1,836.7 L921.5,836.6 L922,836.3 L922.4,836.6 L922.9,836.6 L923.2,836.7 M923.2,835.1 L923.6,729.9 L924,763.6 L924.4,792 L924.9,808.5 L925.3,819.3 L925.8,825.9 L926.2,829.3 L926.6,831.3 L927.1,832.9 L927.6,833.9 L928,834 L928.5,834.3 L928.9,834.5 L928.9,835.1 M928.9,835.4 L929.3,741.1 L929.6,771.3 L930.1,796.4 L930.5,811.5 L931,821.2 L931.4,827.1 L931.9,830.3 L932.3,832.3 L932.8,833.6 L933.2,833.9 L933.7,834.9 L934.1,834.9 L934.6,835.2 L935,835.4 L934.9,835.5 M934.9,835.2 L935.3,758.6 L935.6,783 L936.1,803.4 L936.5,816.1 L937,823.5 L937.4,828.2 L937.9,830.4 L938.3,832.4 L938.8,834 L939.2,833.9 L939.7,834.6 L940.1,834.8 L940.6,834.7 L941,835.5 L941,835.1 M941,836.3 L941.4,686.4 L941.8,734.3 L942.2,774.2 L942.6,799.3 L943.1,813.5 L943.5,822.1 L944,827.8 L944.4,831.1 L944.9,833.4 L945.4,834 L945.8,834.9 L945.7,836.7 M945.7,836.2 L946.1,751.4 L946.5,778.4 L946.9,801.2 L947.4,814.9 L947.8,823.5 L948.2,828.5 L948.7,831.8 L949.1,833.6 L949.6,834.5 L950.1,835.4 L950.5,835.8 L951,836 L951.4,835.9 L951.9,836.3 L952.3,836.3 L952.8,836.5 L955.8,834.7 M955.8,836.5 L956.2,750.4 L956.6,777.6 L957,801.3 L957.5,815.1 L957.9,823.4 L958.4,829 L958.8,831.8 L959.2,833.5 L959.7,835 L960.2,835.8 L960.6,835.9 L961.1,836 L961.5,836.2 L961.5,835.5 M961.5,836.1 L961.9,779.7 L962.2,797.7 L962.7,812.8 L963.1,822.1 L963.6,827.5 L964,830.8 L964.5,833.3 L964.9,834.5 L965.4,834.9 L965.9,835.3 L966.3,835.4 L966.8,835.6 L967.2,835.6 L967.6,836.1 L967.3,835.8 M967.3,834.6 L967.7,727.8 L968.1,762.6 L968.5,790.5 L969,808.3 L969.4,818.8 L969.9,825.2 L970.3,828.3 L970.8,830.9 L971.2,832.8 L971.7,832.8 L972.1,833.3 L972.6,834.1 L972.2,835.5 M972.2,836.6 L972.6,670.5 L973,724.3 L973.4,768.3 L973.9,795.6 L974.3,811.5 L974.8,821.3 L975.2,827.5 L975.6,830.8 L976.1,833 L976.6,834.6 L977,835.2 L977.5,836.2 L977.9,836.3 L978.4,836.3 L978.8,836 L979.2,836.3 L978.9,835.3 M978.9,835.7 L979.3,736 L979.6,768.2 L980.1,795.1 L980.5,811.3 L981,820.6 L981.4,826.5 L981.9,830.3 L982.3,832.8 L982.8,833.5 L983.2,834.5 L983.7,835.2 L984.1,834.9 L984.6,835.2 L985,836 L985.5,835.9 L985.9,835.6 L985.7,834.6 M985.7,836.5 L986.1,753.4 L986.5,780.4 L986.9,802.6 L987.4,816.2 L987.8,824.3 L988.2,828.8 L988.7,831.5 L989.1,833.5 L989.6,834.8 L990.1,835.4 L990.5,835.5 L991,835.8 L991.4,836.4 L991.9,836.4 L992.3,836.2 L992.8,836.9 L992.7,835.8 M992.7,834.4 L993.1,736 L993.5,767.6 L993.9,794.2 L994.4,809.7 L994.8,819.7 L995.2,824.9 L995.7,828.7 L996.1,831.4 L996.6,832.5 L997.1,833.4 L997.5,833.4 L998,834 L998,835.6 M998,834.9 L998.4,722.1 L998.8,758.6 L999.2,788.6 L999.6,807.3 L1000.1,817.9 L1000.5,824.5 L1001,828.3 L1001.4,830.8 L1001.9,832.9 L1002.4,833.1 L1002.8,833.7 L1003.2,834.1 L1003.7,834.7 L1003.5,836.2 M1003.5,835.7 L1003.9,737.5 L1004.2,769.5 L1004.7,794.9 L1005.1,810.8 L1005.6,821.2 L1006,826.6 L1006.5,830.5 L1006.9,832.3 L1007.4,833.4 L1007.9,834.3 L1008.3,834.6 L1008.3,836.4 M1008.3,835.6 L1008.7,762.7 L1009.1,786 L1009.5,805.6 L1010,817.3 L1010.4,824.2 L1010.9,829.3 L1011.3,831.7 L1011.8,833.6 L1012.2,834.1 L1012.7,834.9 L1013.1,834.8 L1013.6,834.9 L1014,835.9 L1014.5,835.9 L1014.9,835.4 L1015.4,836 L1017.9,836.1 M1017.9,834.9 L1018.3,728.2 L1018.6,762.7 L1019.1,791.5 L1019.5,808.3 L1020,819.2 L1020.4,824.9 L1020.9,828.9 L1021.3,831.5 L1021.8,832.4 L1022.2,833.4 L1022.7,834.5 L1023.1,834.4 L1023,836 M1023,834.7 L1023.4,706.3 L1023.8,747.4 L1024.2,781.8 L1024.7,802.4 L1025.1,815.8 L1025.5,822.7 L1026,827.6 L1026.5,830 L1026.9,832.1 L1027.3,833 L1027.8,833.7 L1028.2,833.7 L1028.7,834 L1029.2,834.8 L1029.6,834.4 L1030,834.4 L1030.4,834.6 M1030.4,834.8 L1030.8,754.5 L1031.1,780.1 L1031.6,801.3 L1032,814.9 L1032.5,822.5 L1033,827.1 L1033.4,830.5 L1033.8,831.7 L1034.3,832.9 L1034.8,834.1 L1035.2,833.8 L1035.6,834.4 L1035.5,836.1 M1035.5,836 L1035.9,684.2 L1036.2,732.8 L1036.7,773.4 L1037.2,798.4 L1037.6,812.9 L1038.1,822.5 L1038.5,827.3 L1039,831.3 L1039.4,832.9 L1039.9,833.8 L1040.3,834.8 L1040.8,834.9 L1041.2,835.8 L1041.7,835.5 L1042.1,836.2 L1042.6,836 L1042.9,834.9 M1042.9,834.6 L1043.3,760.6 L1043.6,784.6 L1044.1,803.9 L1044.5,816.5 L1045,823 L1045.5,827.8 L1045.9,830.5 L1046.3,831.9 L1046.8,833.4 L1047.2,833.6 L1047.7,834.2 L1048.1,834.3 L1048.6,834.2 L1049,834.4 L1049.5,834.1 L1050,834.2 L1052.3,836 M1052.3,834.7 L1052.7,716 L1053,754.4 L1053.5,785.5 L1054,805.2 L1054.4,816.6 L1054.9,823.8 L1055.3,827.9 L1055.8,830.3 L1056.2,832.1 L1056.7,833 L1057.1,833.5 L1057.5,834.4 L1058,834.2 L1058.5,834.4 L1058.3,836.1 M1058.3,835.8 L1058.7,741.6 L1059,772.3 L1059.5,797.4 L1060,811.9 L1060.4,821.3 L1060.9,826.7 L1061.3,830.7 L1061.8,832.8 L1062.2,833.7 L1062.7,834.5 L1063.1,835.2 L1063.5,835.5 L1063.6,834.5 M1063.6,835.9 L1064,760.2 L1064.3,784.4 L1064.8,804.9 L1065.2,816.7 L1065.7,824.1 L1066.2,829.4 L1066.6,831.9 L1067,833.6 L1067.5,833.9 L1068,834.5 L1068.4,835 L1068.8,835.3 L1069.3,835.5 L1069.8,835.7 L1070.2,835.4 L1070.7,835.7 L1070.6,835.4 M1070.6,834.3 L1071,745.2 L1071.3,774.2 L1071.8,797.7 L1072.2,812.3 L1072.7,820.5 L1073.2,826 L1073.6,829.5 L1074,831.1 L1074.5,831.9 L1075,833.5 L1075.4,833.9 L1075.8,833.6 L1075.9,833.9 M1075.9,835.8 L1076.3,694 L1076.6,739.8 L1077.1,777.1 L1077.5,800.2 L1078,814 L1078.5,823.1 L1078.9,827.7 L1079.3,831.5 L1079.8,833.2 L1080.2,833.7 L1080.7,835 L1081.1,835.1 L1081.6,835.7 L1082,835.9 L1082.5,835.5 L1083,835.3 L1085.1,836 M1085.1,834.7 L1085.5,701.2 L1085.8,744.7 L1086.3,780 L1086.8,801.7 L1087.2,814.9 L1087.7,822.6 L1088.1,827.3 L1088.5,829.8 L1089,832.2 L1089.5,833 L1089.9,833.8 L1090.3,834.6 L1090.8,834 L1090.7,835.5 M1090.7,833.8 L1091.1,750.4 L1091.4,777.5 L1091.9,799.8 L1092.3,812.8 L1092.8,821.2 L1093.2,826.6 L1093.7,829.3 L1094.1,831 L1094.6,831.8 L1095,832.3 L1095.5,833 L1095.9,833.3 L1095.8,834.1 M1095.8,834.4 L1096.2,720.7 L1096.5,757 L1097,787.9 L1097.5,806.2 L1097.9,816.9 L1098.4,823.7 L1098.8,828.1 L1099.2,830.5 L1099.7,832.5 L1100.2,832.8 L1100.6,833.3 L1100.5,835.8 M1100.5,834 L1100.9,757.1 L1101.2,781.9 L1101.7,802.2 L1102.2,815.1 L1102.6,822.4 L1103.1,827.2 L1103.5,829.4 L1104,831.5 L1104.4,832.5 L1104.9,833 L1105.3,833.7 L1105.8,833.9 L1105.8,833.9 M1105.8,834.3 L1106.2,760.2 L1106.5,783.9 L1107,803.5 L1107.5,815.4 L1107.9,822.9 L1108.4,827.2 L1108.8,830.4 L1109.2,831.7 L1109.7,832.4 L1110.2,833.2 L1110.6,833.7 L1111,833.8 L1111.5,833.7 L1112,833.7 L1112.4,833.7 L1112.2,835.9 M1112.2,835.4 L1112.6,749.8 L1112.9,776.9 L1113.4,800.4 L1113.8,814.5 L1114.3,822.5 L1114.8,827.1 L1115.2,830.6 L1115.6,832.4 L1116.1,833.3 L1116.5,834.3 L1117,834.2 L1117.4,835.4 L1117.9,835.3 L1118.3,835.3 L1118.8,835.7 L1119.2,835.5 L1121.6,834.1 M1121.6,834.1 L1122,737.7 L1122.3,768.4 L1122.8,794 L1123.2,810.3 L1123.7,819.8 L1124.2,825 L1124.6,828.4 L1125,831 L1125.5,832.5 L1126,833.3 L1126.4,833 L1126.8,833.9 L1126.5,835.4 M1126.5,835.2 L1126.9,758 L1127.2,782.7 L1127.7,803.2 L1128.2,816.3 L1128.6,823.4 L1129.1,828 L1129.5,831 L1130,832.5 L1130.4,834 L1130.9,834 L1131.3,834.2 L1131.8,834.9 L1132.2,835.1 L1132.7,835.4 L1133.1,835.4 L1133.1,835.6 M1133.1,835.7 L1133.5,744.2 L1133.8,773.7 L1134.3,798.1 L1134.8,812.5 L1135.2,821.6 L1135.7,827.4 L1136.1,830.2 L1136.5,832.8 L1137,833.5 L1137.5,834.5 L1137.9,835.5 L1138.3,834.8 L1138.8,835 L1138.8,834.4 M1138.8,833.8 L1139.2,747.9 L1139.5,775.8 L1140,798 L1140.5,812.7 L1140.9,821.2 L1141.4,826.2 L1141.8,829 L1142.2,830.7 L1142.7,832.2 L1143.2,832.8 L1143.6,833.1 L1144,833.3 L1143.9,834.4 M1143.9,834.9 L1144.3,750 L1144.6,777.7 L1145.1,800.4 L1145.5,813.4 L1146,821.9 L1146.5,827.1 L1146.9,830.3 L1147.3,831.9 L1147.8,832.9 L1148.2,833.5 L1148.7,834.1 L1149.1,834.5 L1149.6,835.2 L1150,835.2 L1150.5,835.2 L1151,835.4 L1150.7,835.6 M1150.7,834.8 L1151.1,698.7 L1151.4,742.9 L1151.9,778.4 L1152.3,801 L1152.8,814.3 L1153.2,822.1 L1153.7,827.3 L1154.1,830.6 L1154.6,832 L1155,833.2 L1155.5,833.6 L1155.9,834 L1156.4,834.8 L1156.2,833.3 M1156.2,833.7 L1156.6,747.9 L1156.9,775.7 L1157.4,798.4 L1157.8,811.9 L1158.3,820.9 L1158.8,825.7 L1159.2,829 L1159.6,830.7 L1160.1,832 L1160.5,832.7 L1161,833 L1161.4,832.9 L1161.9,833.2 L1162.3,834 L1162.8,833.7 L1162.4,833.5 M1162.4,835.3 L1162.8,722.3 L1163.1,758.5 L1163.6,788.4 L1164,807.1 L1164.5,817.9 L1165,824.9 L1165.4,829.1 L1165.8,831.2 L1166.3,833 L1166.8,833.5 L1167.2,834.4 L1167.6,834.9 L1167.5,833.4 M1167.5,834.2 L1167.9,760.2 L1168.2,783.6 L1168.7,803.7 L1169.2,816.1 L1169.6,823 L1170.1,827.6 L1170.5,830.3 L1171,831.3 L1171.4,833.1 L1171.9,833.5 L1172.3,833.2 L1172.8,834.2 L1173.2,833.8 L1173.7,833.7 L1173.7,835.4 M1173.7,834.5 L1174.1,779.1 L1174.4,797.2 L1174.9,811.4 L1175.3,821 L1175.8,825.7 L1176.2,829.1 L1176.7,831.3 L1177.1,832.1 L1177.6,833.5 L1178,833.5 L1178.5,833.9 L1178.9,834.4 L1179.4,834.3 L1179.2,835.2 M1179.2,834.6 L1179.6,766.1 L1179.9,788.5 L1180.4,806.5 L1180.8,817.9 L1181.3,824.6 L1181.8,828 L1182.2,831 L1182.6,832.1 L1183.1,833.5 L1183.5,833.9 L1184,834.4 L1184.4,833.9 L1184.9,834.3 L1185.3,834.7 L1185.8,835 L1186.2,834.8 L1186,833.2 M1186,834.5 L1186.4,736 L1186.8,767.3 L1187.2,794.1 L1187.7,810.2 L1188.1,819.2 L1188.6,825.9 L1189,829.2 L1189.5,830.9 L1189.9,832.2 L1190.4,833.2 L1190.8,834.1 L1191.2,834.1 L1191.1,833.3 M1191.1,833.1 L1191.5,714.1 L1191.8,752 L1192.3,784.5 L1192.8,803.1 L1193.2,815.1 L1193.7,822 L1194.1,826.6 L1194.5,828.9 L1195,830.3 L1195.5,832 L1195.9,832.2 L1196.3,832.7 L1196.2,834.9 M1196.2,835.3 L1196.6,727.2 L1196.9,761.5 L1197.4,790.7 L1197.8,808 L1198.3,818.9 L1198.8,825.7 L1199.2,829.6 L1199.6,831.2 L1200.1,832.7 L1200.5,834.2 L1201,834.6 L1201.4,834.7 L1201.9,834.9 L1202.3,834.7 L1202.8,835.5 L1202.8,833.9 M1202.8,835 L1203.2,717.6 L1203.5,755.5 L1204,786.3 L1204.5,805.6 L1204.9,817 L1205.4,824.7 L1205.8,828.6 L1206.2,830.6 L1206.7,832.3 L1207.2,833.4 L1207.6,834.1 L1208,834.6 L1208.1,833.8 M1208.1,833.8 L1208.5,753.4 L1208.8,778.8 L1209.3,800.8 L1209.8,813.6 L1210.2,821.1 L1210.7,826.3 L1211.1,829.8 L1211.5,830.6 L1212,831.8 L1212.5,832.9 L1212.9,832.9 L1213.3,833.2 L1213.8,833.5 L1214.2,833.4 L1214.7,833.7 L1214.4,834.1 M1214.4,835.2 L1214.8,777.4 L1215.1,796.5 L1215.6,811 L1216,820.8 L1216.5,826.7 L1217,830.2 L1217.4,832.2 L1217.8,833.3 L1218.3,834.1 L1218.8,834.3 L1219.2,834.5 L1219.6,835.2 L1220.1,835.4 L1219.8,835.1 M1219.8,834.5 L1220.2,750.4 L1220.5,777.3 L1221,800.2 L1221.5,813.7 L1221.9,821.8 L1222.4,826.9 L1222.8,829.6 L1223.2,831.7 L1223.7,832.7 L1224.2,833 L1224.6,833.7 L1225,833.9 L1225.5,834.7 L1225.5,833.9 M1225.5,833.7 L1225.9,747.9 L1226.2,775.3 L1226.7,798.1 L1227.2,812.1 L1227.6,820.3 L1228.1,825.3 L1228.5,829.3 L1229,830.7 L1229.4,831.9 L1229.9,832.7 L1230.3,832.8 L1230.8,833 L1231.2,833 L1231,833.5 M1231,833.5 L1231.4,677 L1231.8,727.6 L1232.2,769.2 L1232.7,794.9 L1233.1,809.7 L1233.6,819.6 L1234,824.9 L1234.5,827.8 L1234.9,830 L1235.4,831.6 L1235.8,832.8 L1236.2,832.6 L1236.7,833.3 L1237.2,833.2 L1236.8,834.8 M1236.8,832.9 L1237.2,755.9 L1237.5,780.7 L1238,801.6 L1238.5,813.5 L1238.9,821 L1239.4,825.3 L1239.8,828.3 L1240.2,830.1 L1240.7,831.5 L1241.2,831.6 L1241.6,832.2 L1242,832.2 L1242.5,832.8 L1243,833.1 L1243.4,833 L1243.3,833.1 M1243.3,834.4 L1243.7,755.5 L1244,781.4 L1244.5,802.1 L1245,814.3 L1245.4,822.8 L1245.9,827.6 L1246.3,829.9 L1246.8,831.4 L1247.2,832.5 L1247.7,833.5 L1248.1,834.2 L1248.5,834.2 L1249,834.6 L1249.5,834 L1249.9,834.2 L1250.4,834.6 L1250.5,834.2 M1250.5,833.6 L1250.9,773.3 L1251.2,792.9 L1251.7,808.6 L1252.2,818.1 L1252.6,824.4 L1253.1,827.6 L1253.5,830.4 L1254,831.4 L1254.4,832.4 L1254.9,832.9 L1255.3,832.9 L1255.8,833.3 L1256.2,832.9 L1256.2,834.8 M1256.2,833.9 L1256.6,760.2 L1256.9,784.4 L1257.4,803.2 L1257.8,815.7 L1258.3,823 L1258.8,827 L1259.2,829.4 L1259.6,831.1 L1260.1,832.1 L1260.5,833.3 L1261,833 L1261.4,833.9 L1261.9,833.7 L1261.8,833.8 M1261.8,834 L1262.2,747.7 L1262.5,775.5 L1263,798.7 L1263.5,812.6 L1263.9,820.7 L1264.4,826.3 L1264.8,828.9 L1265.2,831.3 L1265.7,832.5 L1266.2,833.2 L1266.6,833.1 L1267,833.8 L1267.5,834.2 L1268,833.8 L1268.4,833.7 L1268.3,833.8 M1268.3,834.8 L1268.7,722.3 L1269,758.2 L1269.5,788 L1270,806.7 L1270.4,817.9 L1270.9,824.7 L1271.3,828.4 L1271.8,831.5 L1272.2,832.2 L1272.7,833.6 L1273.1,833.5 L1273.5,833.8 L1273.2,832.8 M1273.2,832.6 L1273.6,733.4 L1273.9,765.4 L1274.4,791.9 L1274.8,807.6 L1275.3,818.1 L1275.8,823.4 L1276.2,826.7 L1276.6,828.9 L1277.1,830.8 L1277.5,831.8 L1278,831.5 L1278.4,831.7 L1278.9,832.6 L1279.3,832.2 L1279.8,833 L1280.2,832.6 L1281.4,833.9 M1281.4,833.2 L1281.8,714.5 L1282.1,753.1 L1282.6,784.4 L1283,803.5 L1283.5,815.7 L1284,822 L1284.4,826.9 L1284.8,828.8 L1285.3,831 L1285.8,831.7 L1286.2,832.7 L1286.6,832.3 L1287.1,833 L1286.8,833.4 M1286.8,834.6 L1287.2,748.7 L1287.5,776.8 L1288,799.4 L1288.5,812.9 L1288.9,821.4 L1289.4,826.5 L1289.8,829.7 L1290.2,831.4 L1290.7,832.5 L1291.2,833.8 L1291.6,834.1 L1292,834 L1292.5,834.8 L1293,834.2 L1292.9,833.7 M1292.9,832.7 L1293.3,779.1 L1293.6,796.7 L1294.1,811 L1294.5,819.1 L1295,824.9 L1295.5,828.1 L1295.9,829.5 L1296.3,830.7 L1296.8,831.6 L1297.2,832.4 L1297.7,832 L1297.6,834 M1297.6,833.7 L1298,739.7 L1298.3,770 L1298.8,795.2 L1299.2,810.7 L1299.7,819.2 L1300.2,825.5 L1300.6,828.4 L1301,830.9 L1301.5,832.2 L1302,832.3 L1302.4,833.4 L1302.8,833.8 L1302.8,833 M1302.8,832.3 L1303.2,719.8 L1303.5,755.7 L1304,786.5 L1304.5,803.8 L1304.9,815.7 L1305.4,821.6 L1305.8,826.3 L1306.2,828.1 L1306.7,829.7 L1307.2,831.1 L1307.6,831.1 L1308,831.6 L1307.7,834.4 M1307.7,833.9 L1308.1,748.7 L1308.4,776.5 L1308.9,799.4 L1309.3,812.2 L1309.8,820.8 L1310.2,826.4 L1310.7,829.4 L1311.1,830.6 L1311.6,832.2 L1312,832.6 L1312.5,833.2 L1312.9,833.1 L1313.4,833.2 L1313.8,834.3 L1314.3,833.6 L1314.8,834.2 L1314.5,832.4 M1314.5,833.3 L1314.9,747.7 L1315.2,774.9 L1315.7,798 L1316.2,811.6 L1316.6,820.5 L1317.1,825.1 L1317.5,828.7 L1318,830.4 L1318.4,831.1 L1318.9,832.1 L1319.3,832.6 L1319.8,833.3 L1320.2,832.9 L1320,832.5 M1320,834.4 L1320.4,747.7 L1320.8,776 L1321.2,799 L1321.7,812.5 L1322.1,820.9 L1322.6,826.2 L1323,829.1 L1323.5,831 L1323.9,832.6 L1324.4,833.2 L1324.8,833.8 L1325.2,833.8 L1325.1,832 M1325.1,833.6 L1325.5,755.5 L1325.8,780.8 L1326.3,801.5 L1326.8,814.2 L1327.2,822 L1327.7,826.9 L1328.1,829.6 L1328.5,831.2 L1329,831.9 L1329.5,832.5 L1329.9,832.9 L1330.3,833.7 L1330.8,833.3 L1331.2,833.4 L1331.7,833.4 L1331.7,832.2 M1331.7,834.3 L1332.1,758 L1332.4,782.1 L1332.9,803 L1333.3,815.7 L1333.8,822.5 L1334.2,827.4 L1334.7,829.9 L1335.1,831.4 L1335.6,832.4 L1336,832.9 L1336.5,834 L1336.9,834.2 L1337.4,834.5 L1337,831.9 M1337,833.5 L1337.4,741.8 L1337.8,771.2 L1338.2,795.9 L1338.7,810.7 L1339.1,819.4 L1339.6,825.5 L1340,827.9 L1340.5,830.6 L1340.9,831.9 L1341.4,832.3 L1341.8,832.9 L1342.2,833.5 L1342.7,832.9 L1343.2,833.4 L1343.6,833.6 L1344.1,833.3 L1346.9,833.4 M1346.9,832.6 L1347.3,758.6 L1347.6,782.5 L1348.1,802.3 L1348.5,814.3 L1349,821.2 L1349.5,826 L1349.9,828.5 L1350.3,829.8 L1350.8,831.2 L1351.2,831.5 L1351.7,832.5 L1352.1,832.2 L1352,833.3 M1352,832.9 L1352.4,722.7 L1352.8,758.2 L1353.2,787.3 L1353.7,805 L1354.1,816.6 L1354.6,822.8 L1355,826.7 L1355.5,829.2 L1355.9,830.9 L1356.4,831.2 L1356.8,831.7 L1357.2,832.7 L1357.7,832.5 L1357.7,833.1 M1357.7,833.5 L1358.1,775.6 L1358.4,794.7 L1358.9,810.1 L1359.3,818.6 L1359.8,824.6 L1360.2,828.5 L1360.7,830.6 L1361.1,831.2 L1361.6,832 L1362,832.5 L1362.5,832.7 L1362.2,832.3 M1362.2,833.4 L1362.6,701.6 L1362.9,744.1 L1363.4,779.2 L1363.8,800.1 L1364.3,813.4 L1364.8,821.8 L1365.2,826.3 L1365.6,828.9 L1366.1,830.7 L1366.5,832.1 L1367,832.7 L1367.4,832.4 L1367.9,833.2 L1367.6,832.3 M1367.6,832.6 L1368,716 L1368.3,753.3 L1368.8,784.6 L1369.2,803.4 L1369.7,814.9 L1370.2,821.5 L1370.6,825.9 L1371,828.8 L1371.5,829.8 L1372,830.9 L1372.4,832 L1372.8,831.9 L1373.3,832.1 L1373.8,832.2 L1373.7,833.3 M1373.7,831.5 L1374.1,758 L1374.4,781.8 L1374.9,801.7 L1375.3,812.9 L1375.8,820.3 L1376.2,825.1 L1376.7,827.6 L1377.1,828.9 L1377.6,829.6 L1378,830.6 L1378.5,830.8 L1378.9,831.4 L1379.4,831.1 L1379.8,831.3 L1380.3,831.6 L1380.3,833.2 M1380.3,832.1 L1380.7,753.9 L1381,779 L1381.5,800 L1382,813 L1382.4,819.9 L1382.9,825.4 L1383.3,827.9 L1383.8,829.3 L1384.2,830.6 L1384.7,830.9 L1385.1,831.1 L1385.5,832 L1386,831.7 L1386,832.4 M1386,832.3 L1386.4,724.3 L1386.8,759.5 L1387.2,788.2 L1387.7,804.9 L1388.1,816.1 L1388.6,822.4 L1389,826.3 L1389.5,829 L1389.9,830 L1390.4,831 L1390.8,831.9 L1390.7,832.1 M1390.7,832.3 L1391.1,696.1 L1391.4,740 L1391.9,776.6 L1392.3,798.5 L1392.8,811.9 L1393.2,819.7 L1393.7,824.2 L1394.1,827.8 L1394.6,829.5 L1395,830.8 L1395.5,831.5 L1395.4,831.3 M1395.4,831.6 L1395.8,764.1 L1396.1,785.4 L1396.6,804.1 L1397,814.3 L1397.5,820.9 L1398,825.6 L1398.4,827.9 L1398.8,828.8 L1399.3,830.4 L1399.8,830.9 L1400.2,831 L1400.6,830.8 L1400.3,832.6 M1400.3,832 L1400.7,723.7 L1401,758.7 L1401.5,788 L1402,805.3 L1402.4,816 L1402.9,821.7 L1403.3,825.8 L1403.8,828.3 L1404.2,829.3 L1404.7,831.1 L1405.1,830.9 L1405.5,831.2 L1405.5,831.6 M1405.5,831.5 L1405.9,739.1 L1406.2,769.2 L1406.7,793.6 L1407.2,808.5 L1407.6,817.4 L1408.1,822.6 L1408.5,826.2 L1409,828.7 L1409.4,829.9 L1409.9,830.7 L1410.3,830.6 L1410.8,830.8 L1411.2,830.8 L1411.7,831.4 L1412.1,831.3 L1412.6,831.4 L1412.4,832 M1412.4,832.2 L1412.8,737.7 L1413.1,768 L1413.6,793.6 L1414,808.3 L1414.5,818.3 L1415,823.6 L1415.4,826.5 L1415.8,828.8 L1416.3,830.3 L1416.8,830.9 L1417.2,831.6 L1417.6,831.6 L1417.3,831.4 M1417.3,832.6 L1417.7,739.1 L1418,769 L1418.5,794.4 L1419,809.6 L1419.4,818.6 L1419.9,824 L1420.3,827.9 L1420.8,829.4 L1421.2,831.1 L1421.7,831 L1422.1,831.9 L1422.5,832.4 L1423,831.9 L1423.5,832.8 L1423.1,830.8 M1423.1,832.1 L1423.5,741.1 L1423.8,770.1 L1424.3,795.1 L1424.8,809.5 L1425.2,818.6 L1425.7,823.7 L1426.1,827.2 L1426.5,829.2 L1427,830 L1427.5,830.7 L1427.9,831.7 L1427.8,830.9 M1427.8,832.8 L1428.2,735.4 L1428.5,766.5 L1429,792.4 L1429.5,808.1 L1429.9,818.3 L1430.4,824.3 L1430.8,827.3 L1431.2,829.7 L1431.7,830.6 L1432.2,832 L1432.6,832.2 L1433,832 L1432.9,830.7 M1432.9,832.2 L1433.3,735.4 L1433.6,766.1 L1434.1,792.7 L1434.5,807.9 L1435,817.3 L1435.5,823.4 L1435.9,826.6 L1436.3,829 L1436.8,829.9 L1437.2,831.4 L1437.7,831.3 L1438.1,832.1 L1438.6,831.6 L1439,832.3 L1439.5,832.6 L1439.1,831.4 M1439.1,830.5 L1439.5,711.8 L1439.8,749.9 L1440.3,781.9 L1440.8,800.6 L1441.2,812.6 L1441.7,819.2 L1442.1,823.9 L1442.5,826.7 L1443,828 L1443.5,829.2 L1443.9,829.2 L1444.3,830.3 L1444.8,829.8 L1445.2,830.7 L1445.2,832.7 M1445.2,832.6 L1445.6,768.8 L1445.9,789.4 L1446.4,806.2 L1446.8,816.5 L1447.3,823.2 L1447.8,826.8 L1448.2,829.5 L1448.6,830.1 L1449.1,831.3 L1449.5,832.2 L1450,832.2 L1450.4,832.4 L1450.9,832 L1450.7,830.6 M1450.7,830.9 L1451.1,681.7 L1451.4,730.2 L1451.9,769.9 L1452.3,793.5 L1452.8,808.8 L1453.2,816.8 L1453.7,822.7 L1454.1,826.4 L1454.6,827.7 L1455,829.5 L1455.5,830 L1455.1,830.3 M1455.1,831 L1455.5,704.7 L1455.8,745.4 L1456.3,778.8 L1456.8,799.8 L1457.2,811.6 L1457.7,819.7 L1458.1,823.8 L1458.5,826.3 L1459,828.5 L1459.5,829.1 L1459.9,830.1 L1460.3,830.7 L1460.8,830.8 L1461.2,830.8 L1461,830.2 M1461,831.4 L1461.4,710.8 L1461.8,749.2 L1462.2,782 L1462.7,800.9 L1463.1,813.2 L1463.6,820.2 L1464,824.5 L1464.5,827.5 L1464.9,828.6 L1465.4,829.6 L1465.8,830.9 L1466.2,830.7 L1466.3,832.1 M1466.3,832.2 L1466.7,737.7 L1467,768.1 L1467.5,793 L1468,808.2 L1468.4,818.3 L1468.9,823.1 L1469.3,826.9 L1469.8,829 L1470.2,829.9 L1470.7,831 L1471.1,831.1 L1471.5,831.8 L1471.4,831.2 M1471.4,830.9 L1471.8,752.4 L1472.1,777.4 L1472.6,798.5 L1473,811 L1473.5,818.6 L1474,823.4 L1474.4,826.9 L1474.8,828.2 L1475.3,829.7 L1475.8,829.4 L1476.2,830.7 L1476.6,830.5 L1477.1,831 L1477.5,830.8 L1478,831 L1478.5,830.6 L1479,831.7 M1479,830.3 L1479.4,748.3 L1479.8,774.5 L1480.2,796.1 L1480.7,809.7 L1481.1,817.9 L1481.6,822.5 L1482,826.1 L1482.5,827.1 L1482.9,828.7 L1483.4,829 L1483.8,829.8 L1484.2,830.2 L1484.7,830.3 L1484.6,830 M1484.6,830.4 L1485,728.9 L1485.3,761.7 L1485.8,789.2 L1486.2,804.6 L1486.7,815.2 L1487.2,821.3 L1487.6,825.1 L1488,826.8 L1488.5,828.7 L1489,829.1 L1489.4,830.1 L1489.8,829.5 L1490.3,830.6 L1490.8,830.2 L1491.2,830.2 L1491.7,829.9 L1491.3,830.3 M1491.3,831.5 L1491.7,688.5 L1492,734.8 L1492.5,772.4 L1493,795.7 L1493.4,809.5 L1493.9,818.1 L1494.3,823.3 L1494.8,826.5 L1495.2,829.1 L1495.7,830.2 L1496.1,830.7 L1495.8,830.8 M1495.8,830.9 L1496.2,753.4 L1496.5,778.6 L1497,799.4 L1497.5,811.8 L1497.9,819.3 L1498.4,823.5 L1498.8,826.7 L1499.2,828.6 L1499.7,829.6 L1500.2,829.5 L1500.6,830.5 L1501,830.4 L1501.5,830.3 L1502,831.2 L1502.4,831 L1502,831.4 M1502,829.9 L1502.4,726.8 L1502.8,760.4 L1503.2,788 L1503.7,804.6 L1504.1,814.6 L1504.6,820.8 L1505,824.5 L1505.5,826.5 L1505.9,827.7 L1506.4,829 L1506.8,829.4 L1507.2,829.8 L1507.7,829.4 L1508.2,830.2 L1508.6,829.9 L1509.1,830.3 L1510.2,829.8 M1510.2,831.8 L1510.6,688.5 L1510.9,735 L1511.4,772.6 L1511.8,796.4 L1512.3,809.9 L1512.8,818.4 L1513.2,823.8 L1513.6,826.7 L1514.1,828.9 L1514.5,830.4 L1515,830.9 L1515.4,831.4 L1515.9,831.3 L1516.3,831.9 L1516.1,831.3 M1516.1,831.1 L1516.5,676.6 L1516.8,726.8 L1517.3,767.9 L1517.8,792.4 L1518.2,807.3 L1518.7,817 L1519.1,822.8 L1519.5,825.7 L1520,828 L1520.5,829.5 L1520.9,830.2 L1521.3,829.9 L1521.2,830.5 M1521.2,829.4 L1521.6,728.9 L1521.9,760.9 L1522.4,788.4 L1522.8,804.2 L1523.3,814.3 L1523.8,820.1 L1524.2,823.6 L1524.6,825.7 L1525.1,827.2 L1525.5,828.5 L1526,828.7 L1526.4,828.7 L1526.9,828.7 L1526.8,829.9 M1526.8,831 L1527.2,696.7 L1527.5,739.9 L1528,775.9 L1528.5,797.8 L1528.9,810.3 L1529.4,818.8 L1529.8,823 L1530.2,826.7 L1530.7,827.9 L1531.2,829.1 L1531.6,830.4 L1532,830.2 L1532.5,830.3 L1532.3,831.3 M1532.3,830.7 L1532.7,724.1 L1533,758.8 L1533.5,786.7 L1534,804.1 L1534.4,815 L1534.9,820.9 L1535.3,825.2 L1535.8,826.8 L1536.2,828.8 L1536.7,829 L1537.1,829.9 L1537.5,829.7 L1538,830 L1538.5,830.9 L1538.9,830.5 L1539.4,830.9 L1542.1,829.7 M1542.1,829.9 L1542.5,722.1 L1542.8,756.4 L1543.3,785.6 L1543.8,803.4 L1544.2,813.6 L1544.7,819.9 L1545.1,824.3 L1545.5,826.7 L1546,827.9 L1546.5,828.1 L1546.9,829.2 L1547.3,829.4 L1547.3,831.3 M1547.3,829.9 L1547.7,741.8 L1548,770.3 L1548.5,793.8 L1549,807.8 L1549.4,816.6 L1549.9,822 L1550.3,825.4 L1550.8,826.9 L1551.2,827.9 L1551.7,829.2 L1552.1,828.8 L1552.5,829.8 L1552.4,830.6 M1552.4,830.3 L1552.8,705.7 L1553.1,745.8 L1553.6,779.3 L1554,799.6 L1554.5,811.7 L1555,819.1 L1555.4,822.9 L1555.8,825.9 L1556.3,827.4 L1556.8,829.2 L1557.2,829.7 L1557.6,829.3 L1557.5,830.3 M1557.5,830.2 L1557.9,737.7 L1558.2,767.1 L1558.7,792.1 L1559.2,807.4 L1559.6,816.4 L1560.1,821.5 L1560.5,825.4 L1561,826.9 L1561.4,828.4 L1561.9,829 L1562.3,830 L1562,830.4 M1562,830.7 L1562.4,723.3 L1562.8,758.1 L1563.2,786.4 L1563.7,804.4 L1564.1,814.7 L1564.6,821.1 L1565,824.5 L1565.5,826.8 L1565.9,828.6 L1566.4,829.7 L1566.8,830.2 L1567.2,830.1 L1567.7,830.1 L1567.6,830 M1567.6,830.8 L1568,732.3 L1568.3,763.7 L1568.8,790.6 L1569.2,805.9 L1569.7,815.7 L1570.2,821.3 L1570.6,825.1 L1571,827.4 L1571.5,829.3 L1572,830.1 L1572.4,829.8 L1572.8,830.2 L1573.3,831 L1573.8,830.4 L1574.2,830.6 L1574.7,830.7 L1574.3,828.9 M1574.3,829.3 L1574.7,720 L1575,755.1 L1575.5,784.2 L1576,802.5 L1576.4,812.5 L1576.9,818.9 L1577.3,823.6 L1577.8,825.5 L1578.2,827.4 L1578.7,828 L1579.1,828.7 L1579.5,828.6 L1579.6,828.9 M1579.6,830.4 L1580,720.7 L1580.3,756 L1580.8,785.4 L1581.2,803.2 L1581.7,814 L1582.2,820.1 L1582.6,824.1 L1583,827.1 L1583.5,828.2 L1584,828.8 L1584.4,829.7 L1584.8,829.6 L1585.3,830.4 L1585.1,828.6 M1585.1,830.5 L1585.5,735.6 L1585.8,766.2 L1586.3,791.3 L1586.8,807.3 L1587.2,815.9 L1587.7,821.5 L1588.1,824.8 L1588.5,827.3 L1589,828.8 L1589.5,829.5 L1589.9,829.7 L1589.7,830.4 M1589.7,828.7 L1590.1,734.8 L1590.4,764.9 L1590.9,790.2 L1591.3,805.8 L1591.8,814.6 L1592.2,820.3 L1592.7,823.7 L1593.1,825.4 L1593.6,827.2 L1594,827.8 L1594.5,827.8 L1594.9,828.2 L1595.4,828.7 L1595.8,828.4 L1595.5,828.8 M1595.5,830.4 L1595.9,742.8 L1596.2,771.1 L1596.7,794.4 L1597.2,808.8 L1597.6,817.6 L1598.1,822 L1598.5,825.4 L1599,827.1 L1599.4,828.6 L1599.9,829.4 L1600.3,830.1 L1600.8,830.2 L1600.6,829.7 M1600.6,829.3 L1601,732.5 L1601.3,763.7 L1601.8,789.3 L1602.2,805.5 L1602.7,814.9 L1603.2,820.7 L1603.6,823.5 L1604,826.2 L1604.5,827.5 L1605,828.1 L1605.4,828.9 L1605.8,829.2 L1606.3,829.2 L1606.8,829.4 L1607.2,829.3 L1607.7,829.6 L1609.2,828.6 M1609.2,829.9 L1609.6,710.4 L1609.9,749.1 L1610.4,780.9 L1610.8,799.9 L1611.3,811.4 L1611.8,819.1 L1612.2,823.6 L1612.6,825.7 L1613.1,827.2 L1613.5,828.2 L1614,828.6 L1613.9,829.8 M1613.9,830.5 L1614.3,710.4 L1614.6,749.4 L1615.1,781 L1615.5,800.8 L1616,811.9 L1616.5,819.9 L1616.9,823.7 L1617.3,826 L1617.8,828.2 L1618.2,828.7 L1618.7,829.4 L1619.1,829.6 L1618.8,829.2 M1618.8,829.5 L1619.2,725.4 L1619.5,759.2 L1620,786.2 L1620.5,803.9 L1620.9,813.4 L1621.4,819.7 L1621.8,823.8 L1622.2,825.8 L1622.7,827.2 L1623.2,828.3 L1623.6,828.4 L1623.5,830 M1623.5,828.6 L1623.9,685.2 L1624.2,731.8 L1624.7,770 L1625.2,792.9 L1625.6,806.5 L1626.1,815.8 L1626.5,820.2 L1627,823.8 L1627.4,825.6 L1627.9,826.4 L1628.3,827.7 L1628.8,828.2 L1628.7,829.5 M1628.7,829.1 L1629.1,694 L1629.4,737.5 L1629.9,773.6 L1630.3,795.1 L1630.8,809 L1631.2,817.2 L1631.7,821.9 L1632.1,825 L1632.6,826.1 L1633,827.9 L1633.5,827.6 L1633.9,828.4 L1634.4,828.3 L1634.2,829.2 M1634.2,829.7 L1634.6,711 L1634.9,749.5 L1635.4,780.9 L1635.8,799.9 L1636.3,811.4 L1636.8,818.7 L1637.2,822.9 L1637.6,825.4 L1638.1,827.5 L1638.5,828.3 L1639,828.8 L1638.9,828.5 M1638.9,829.7 L1639.3,695 L1639.6,738.1 L1640.1,774.1 L1640.5,796.2 L1641,809.6 L1641.5,817.8 L1641.9,822.5 L1642.3,825.6 L1642.8,827.4 L1643.2,828.3 L1643.7,828.9 L1644.1,828.7 L1644.6,829.1 L1645,829 L1645.5,830 L1645.3,829.7 M1645.3,829.5 L1645.7,717.6 L1646,753.4 L1646.5,783.4 L1647,801.3 L1647.4,812.7 L1647.9,819.7 L1648.3,823.1 L1648.8,825.3 L1649.2,826.9 L1649.7,828 L1649.6,830.1 M1649.6,829.9 L1650,739.7 L1650.3,768.7 L1650.8,792.4 L1651.2,807 L1651.7,815.9 L1652.2,821.9 L1652.6,824.9 L1653,827.3 L1653.5,828.5 L1654,829.1 L1653.9,829.1 M1653.9,829.9 L1654.3,707.7 L1654.6,746.7 L1655.1,779.3 L1655.5,799.5 L1656,811.4 L1656.5,818.4 L1656.9,822.9 L1657.3,825.3 L1657.8,827.8 L1658.2,828.6 L1658.7,829.4 L1659.1,829.8 L1658.8,829 M1658.8,829.7 L1659.2,715.1 L1659.5,751.9 L1660,782.9 L1660.5,801.4 L1660.9,812 L1661.4,818.7 L1661.8,823 L1662.2,825.9 L1662.7,827.2 L1663.2,827.7 L1663.1,829.9 M1663.1,829.8 L1663.5,730.3 L1663.8,762.3 L1664.3,788.4 L1664.8,805.4 L1665.2,814.8 L1665.7,820.2 L1666.1,824.1 L1666.5,826.5 L1667,828.1 L1667.5,828.5 L1667.9,829.2 L1668.3,829 L1668.8,829.2 L1669.2,830 L1669,828.8 M1669,828.1 L1669.4,721.1 L1669.8,755.7 L1670.2,783.7 L1670.7,801.1 L1671.1,811.9 L1671.6,818.4 L1672,822.3 L1672.5,824.7 L1672.9,825.8 L1673.4,826.3 L1673.8,827.5 L1674.2,827.2 L1674.7,827.8 L1675.2,827.8 L1675.2,829.4 M1675.2,829.5 L1675.6,721.7 L1675.9,756.2 L1676.4,785.3 L1676.8,802.8 L1677.3,813.2 L1677.8,819.3 L1678.2,823.9 L1678.6,826 L1679.1,826.9 L1679.5,827.9 L1680,829.2 L1679.7,828.3 M1679.7,828.7 L1680.1,715.5 L1680.4,752.3 L1680.9,782.5 L1681.3,800.6 L1681.8,811.8 L1682.2,817.9 L1682.7,822 L1683.1,825.4 L1683.6,826.7 L1684,826.8 L1684.5,827.4 L1684.2,828.3 M1684.2,830 L1684.6,731.5 L1684.9,762.9 L1685.4,789.7 L1685.8,805.8 L1686.3,815.2 L1686.8,821.4 L1687.2,824.3 L1687.6,826.3 L1688.1,827.5 L1688.5,829 L1688.3,828 M1688.3,830 L1688.7,698.1 L1689,740.8 L1689.5,775.5 L1690,797.5 L1690.4,809.8 L1690.9,818 L1691.3,822.3 L1691.8,825.9 L1691.6,829.8 M1691.6,829.9 L1692,734 L1692.3,764.4 L1692.8,790.8 L1693.2,806 L1693.7,815.7 L1694.2,821.1 L1694.6,824.7 L1695,826.7 L1695.5,828.2 L1696,828.3 L1696.4,828.7 L1696.8,829.5 L1697.3,829.4 L1697.8,829.6 L1698.2,829.3 L1698.7,830.1 L1699.4,827.7 M1699.4,829.6 L1699.8,709.8 L1700.1,748.7 L1700.6,780.3 L1701,799.4 L1701.5,811.7 L1702,818.3 L1702.4,822.9 L1702.8,825.2 L1703.3,827.6 L1703.8,828.2 L1704.2,828.6 L1704.6,828.7 L1705.1,829.5 L1705.5,829.8 L1706,829.9 L1705.9,827.8 M1705.9,828.5 L1706.3,726.4 L1706.6,759.1 L1707.1,786.8 L1707.5,802.7 L1708,813.1 L1708.5,819.6 L1708.9,823.1 L1709.3,824.5 L1709.8,826 L1710.2,826.8 L1710.7,827.9 L1711.1,828.1 L1711,828.8 M1711,828.7 L1711.4,662.3 L1711.8,715.8 L1712.2,760.4 L1712.7,787.3 L1713.1,803.9 L1713.6,813.6 L1714,819.7 L1714.5,823.4 L1714.9,825.6 L1715.4,826.8 L1715.8,826.9 L1715.7,829.2 M1715.7,829.6 L1716.1,701.6 L1716.4,742.8 L1716.9,777.3 L1717.3,797.3 L1717.8,810.7 L1718.2,817.8 L1718.7,822.7 L1719.1,825 L1719.6,826.7 L1720,827.8 L1720.5,828.4 L1720.9,828.6 L1721.4,829.2 L1721.8,829.8 L1721.5,829.1 M1721.5,829.7 L1721.9,721.7 L1722.2,756.8 L1722.7,785.7 L1723.2,803.3 L1723.6,813.6 L1724.1,819.6 L1724.5,823.5 L1725,826 L1725.4,827 L1725.9,828.1 L1726.3,829.3 L1726.8,829.7 L1727.2,829.3 L1727.7,829.8 L1727.4,829.3 M1727.4,829.6 L1727.8,690.5 L1728.1,735.6 L1728.6,772.4 L1729,794.5 L1729.5,808.9 L1730,816.6 L1730.4,822 L1730.8,824.8 L1731.3,826.8 L1731.1,829.7 M1731.1,827.8 L1731.5,684.4 L1731.8,730.6 L1732.3,769 L1732.8,792.1 L1733.2,806.6 L1733.7,814.6 L1734.1,820.2 L1734.5,823.2 L1735,825.3 L1734.8,827.6 M1734.8,827.9 L1735.2,725.8 L1735.5,758.5 L1736,786.3 L1736.5,802 L1736.9,812.2 L1737.4,818.8 L1737.8,822.7 L1738.2,824.1 L1738.7,825.8 L1739.2,826.8 L1739.6,827.3 L1740,827.7 L1740.5,827.9 L1741,827.5 L1741.4,827.6 L1741.4,827.4 M1741.4,829 L1741.8,713.1 L1742.1,750.2 L1742.6,781.1 L1743,800.6 L1743.5,811.6 L1744,818.5 L1744.4,822.7 L1744.4,828.8 M1744.4,829 L1744.8,712 L1745.1,749.5 L1745.6,780.5 L1746,799.4 L1746.5,810.8 L1747,818.1 L1747.4,822.1 L1747.8,824.7 L1747.5,828.5 M1747.5,829.6 L1747.9,718.6 L1748.2,754.6 L1748.7,783.8 L1749.2,802.2 L1749.6,812.5 L1750.1,819.1 L1750.5,823.3 L1750.2,828.3 M1750.2,829 L1750.6,718.6 L1750.9,754.1 L1751.4,783.8 L1751.8,801 L1752.3,812.7 L1752.8,818.7 L1753.2,823.1 L1753,827.4 M1753,829.3 L1753.4,720 L1753.8,754.9 L1754.2,784.7 L1754.7,802.3 L1755.1,812.9 L1755.6,819 L1756,822.7 L1756.5,825.3 L1756.9,827.5 L1757.4,827.6 L1757.8,828.6 L1758.2,828.9 L1758.7,829.1 L1758.6,827.7 M1758.6,827.6 L1759,620.2 L1759.3,686.6 L1759.8,742.8 L1760.2,775.8 L1760.7,796.4 L1761.2,808.7 L1761.6,815.8 L1762,820.2 L1762.5,822.9 L1763,825.4 L1763.4,825.7 L1763.8,827.1 L1764.3,826.9 L1764.8,827.5 L1764.5,827.6 M1764.5,829.2 L1764.9,702.8 L1765.2,743.3 L1765.7,777.1 L1766.2,797.7 L1766.6,809.7 L1767.1,817.3 L1767.5,822.4 L1767.4,828 M1767.4,828.2 L1767.8,723.7 L1768.1,757.6 L1768.6,785 L1769,801.8 L1769.5,812.1 L1770,818.5 L1770.4,822.2 L1770.8,824.8 L1771.3,826 L1771.8,827.3 L1772.2,827 L1772.6,827.9 L1773.1,828.2 L1773.5,827.7 L1774,827.6 L1774.5,828.1 L1774.8,827.5 M1774.8,828.4 L1775.2,723.7 L1775.5,757.6 L1776,784.9 L1776.5,801.9 L1776.9,812.5 L1777.4,818.4 L1777.8,822.3 L1778.2,824.8 L1778.7,825.8 L1779.2,826.6 L1778.9,828.1 M1778.9,828.4 L1779.3,697.5 L1779.6,740.1 L1780.1,774.6 L1780.5,795.3 L1781,808.3 L1781.5,816.6 L1781.3,828.6 M1781.3,829.3 L1781.7,724.1 L1782,758.5 L1782.5,786.4 L1783,802.7 L1783.4,813.9 L1783.9,819.7 L1784.3,823.2 L1784.8,825.5 L1785.2,827.6 L1785.7,827.7 L1786.1,828.1 L1785.8,827.9 M1785.8,829.5 L1786.2,715.9 L1786.5,752.5 L1787,783 L1787.5,800.7 L1787.9,812.2 L1788.4,818.9 L1788.1,827.7 M1788.1,828.8 L1788.5,703.9 L1788.8,744 L1789.3,777.1 L1789.8,798.2 L1790.2,809.9 L1790.7,817.1 L1791.1,821.4 L1791.5,824.8 L1792,826.3 L1792.5,826.8 L1792.9,827.9 L1793.3,828.5 L1793.8,828.5 L1794.2,828.4 L1794,828.4 M1794,828.7 L1794.4,714.9 L1794.8,751.7 L1795.2,781.6 L1795.7,800.6 L1796.1,811.9 L1796.6,818.5 L1797,822.7 L1797.5,824.7 L1797.9,826.8 L1797.7,827.7 M1797.7,827.8 L1798.1,734 L1798.4,764.3 L1798.9,789.6 L1799.3,804 L1799.8,813.3 L1800.2,818.7 L1800.7,822.5 L1801.1,824.3 L1801.6,825.5 L1802,826.9 L1802.5,827.2 L1802.9,827.8 L1803.4,827.4 L1803.8,827.8 L1804.3,827.2 L1804.8,828.2 L1806.3,827.8 M1806.3,828.4 L1806.7,711.8 L1807,749.4 L1807.5,780.9 L1808,799.3 L1808.4,811.2 L1808.9,817.8 L1809.3,821.6 L1809,829.2 M1809,827.7 L1809.4,703.2 L1809.8,743.8 L1810.2,776.5 L1810.7,796.4 L1811.1,809.3 L1811.6,816.1 L1812,820.7 L1812.5,823.3 L1812.9,825.3 L1812.9,827.3 M1812.9,828.1 L1813.3,669.4 L1813.6,720.2 L1814.1,763.2 L1814.5,788 L1815,804.2 L1815.5,813.3 L1815.9,819.2 L1815.7,828.6 M1815.7,828.9 L1816.1,718.6 L1816.4,753.8 L1816.9,783.3 L1817.3,801 L1817.8,812.7 L1818.2,818.4 L1818.7,822.4 L1819.1,825.2 L1819.6,826.7 L1819.4,829.3 M1819.4,827.3 L1819.8,681.1 L1820.1,727.9 L1820.6,766.9 L1821,791 L1821.5,805.2 L1822,813.8 L1822.4,819.6 L1822.8,822.6 L1822.7,829.3 M1822.7,829.5 L1823.1,715.9 L1823.4,752.3 L1823.9,783.2 L1824.3,801.1 L1824.8,811.9 L1825.2,819.5 L1825.7,822.8 L1826.1,825.2 L1826.6,827 L1826.4,827.9 M1826.4,829.5 L1826.8,728.2 L1827.1,761.2 L1827.6,787.8 L1828,804.3 L1828.5,814.5 L1829,820.5 L1828.9,828.8 M1828.9,828.4 L1829.3,728.9 L1829.6,760.6 L1830.1,787.2 L1830.5,803.8 L1831,813.5 L1831.5,819.6 L1831.9,823.3 L1832.3,825.5 L1832.8,826.1 L1832.6,827.4 M1832.6,829.3 L1833,728.9 L1833.3,761.3 L1833.8,787.7 L1834.2,804.5 L1834.7,813.9 L1835.2,819.9 L1835.6,823.6 L1836,826 L1836.5,827.5 L1836.2,827.4 M1836.2,829 L1836.6,728.4 L1836.9,760.9 L1837.4,787.6 L1837.8,804.1 L1838.3,814 L1838.8,819.2 L1839.2,823.3 L1839.6,825.7 L1840.1,827.1 L1840.1,828.7 M1840.1,827.6 L1840.5,720.7 L1840.8,755.6 L1841.3,783.9 L1841.8,800.7 L1842.2,811.4 L1842.7,818.3 L1843.1,821.4 L1843.5,823.9 L1844,825.9 L1843.8,829.3 M1843.8,827.7 L1844.2,721.7 L1844.5,756.1 L1845,784 L1845.5,801.4 L1845.9,812 L1846.4,817.6 L1846.8,821.5 L1847.2,823.9 L1847.7,825.3 L1847.5,827.2 M1847.5,827.5 L1847.9,722.3 L1848.2,756.1 L1848.7,784.2 L1849.2,800.8 L1849.6,811.7 L1850.1,818.3 L1850.5,821.7 L1850.4,828 M1850.4,828.8 L1850.8,736 L1851.1,765.9 L1851.6,790.4 L1852,805.7 L1852,827.2 M1852,828.8 L1852.4,731.5 L1852.8,762.5 L1853.2,788.7 L1853.7,805 L1854.1,814.3 L1854.6,820.2 L1855,823.5 L1855.5,825.6 L1855.1,828.8 M1855.1,829.5 L1855.5,713.1 L1855.8,750.3 L1856.3,781.9 L1856.8,800.3 L1857.2,811.6 L1857.7,819.1 L1857.6,828.6 M1857.6,829.2 L1858,736 L1858.3,766.4 L1858.8,791 L1859.2,805.6 L1859.7,814.6 L1860.2,820.7 L1860.2,828.9 M1860.2,827.8 L1860.6,720.7 L1860.9,754.8 L1861.4,783.3 L1861.8,800.8 L1862.3,811.8 L1862.8,817.5 L1863.2,821.6 L1863.6,823.9 L1863.7,828.8 M1863.7,829.5 L1864.1,741.1 L1864.4,769.1 L1864.9,792.8 L1865.3,807.9 L1865.8,816.6 L1866.2,821 L1866.7,824.4 L1867.1,826.5 L1867,827.9 M1867,828.1 L1867.4,716.6 L1867.8,752.5 L1868.2,782 L1868.7,799.9 L1869.1,810.8 L1869,827.5 M1869,827.3 L1869.4,730.9 L1869.8,762.1 L1870.2,787.9 L1870.7,803.1 L1871.1,813.1 L1871.6,818.7 L1872,821.8 L1872.5,824.1 L1872.9,825.1 L1873.4,826.6 L1873.8,826.7 L1873.5,827.2 M1873.5,827.5 L1873.9,723.7 L1874.2,757.3 L1874.7,784.7 L1875.2,801.8 L1875.6,811.5 L1875.6,829 M1875.6,829 L1876,736.6 L1876.3,766 L1876.8,791.1 L1877.2,805.7 L1877.7,815.3 L1878.2,820.9 L1878.6,824.2 L1879,825.7 L1879.5,826.7 L1880,828.1 L1880.4,828.4 L1880.3,827.4 M1880.3,827.6 L1880.7,719.6 L1881,770.5 L1881.5,802 L1882,816.6 L1882.4,822.4 L1882.9,825.2 L1883.3,826.5 L1883.8,827.2 L1883.8,828.8 M1883.8,827.2 L1884.2,738.1 L1884.5,780.3 L1885,806.1 L1885.5,817.8 L1885.9,823.3 L1886.4,825.6 L1886.8,826.5 L1886.6,829.3 M1886.6,827.6 L1887,745 L1887.3,783.7 L1887.8,808.5 L1888.2,818.8 L1888.7,823.5 L1889.2,825.7 L1889.6,827.1 L1890,827.6 L1890.5,827.7 L1891,828 L1891.4,827.9 L1891.4,827.8 M1891.4,827.9 L1891.8,760.5 L1892.2,792.4 L1892.6,811.7 L1893.1,821 L1893.5,824.4 L1894,826 L1894.4,827.3 L1894.9,827.2 L1895.3,828.2 L1895.1,829.2 M1895.1,828.2 L1895.5,754.8 L1895.9,789 L1896.3,810.7 L1896.8,820.6 L1897.2,824.9 L1897.7,826.6 L1898.1,827.8 L1898.6,827.9 L1899,828.3 L1899.5,827.7 L1899.9,827.7 L1900.4,828.1 L1900.2,828.2 M1900.2,827.7 L1900.6,763 L1901,793.6 L1901.4,812.3 L1901.9,820.8 L1902.3,824.7 L1902.8,826.6 L1903.2,827.4 L1903.7,827.3 L1904.1,827.5 L1904.6,828.1 L1905,828.1 L1905.5,827.8 L1905.9,827.3 L1905.6,828.2 M1905.6,828.6 L1906,742 L1906.3,782.6 L1906.8,807.9 L1907.2,820.2 L1907.7,825.1 L1908.1,826.5 L1908.6,827.8 L1909,828.4 L1909.5,828.3 L1909.9,828.1 L1909.7,828.9 M1909.7,828.9 L1910.1,745.6 L1910.4,784.8 L1910.9,809 L1911.3,820.2 L1911.8,824.7 L1912.2,827.7 L1912.7,827.7 L1913.1,828.4 L1913.6,829 L1913.5,827.4 M1913.5,827.3 L1913.9,768.5 L1914.3,795.8 L1914.7,813.2 L1915.2,821.3 L1915.6,825 L1916.1,825.8 L1916.5,826.5 L1917,827.4 L1917.4,827.1 L1917.9,827.1 L1918.3,826.9 L1918.2,827.6 M1918.2,829.4 L1918.6,770.4 L1919,797.8 L1919.4,815.4 L1919.9,823.6 L1920.3,827.1 L1920.8,828.6 L1921.2,828.8 L1921.7,829.6 L1922.1,829.4 L1922.6,829.1 L1922.5,828.2 M1922.5,828.8 L1922.9,772.4 L1923.2,799.2 L1923.7,815.2 L1924.1,822.7 L1924.6,826.7 L1925,827.2 L1925.5,828.6 L1925.9,828.4 L1926.4,828.4 L1926.8,828.5 L1926.9,828.2 M1926.9,829.4 L1927.3,758.1 L1927.6,791.3 L1928.1,813.1 L1928.5,821.9 L1929,825.8 L1929.4,828.2 L1929.9,828.6 L1930.3,828.8 L1930.8,829.2 L1931.2,829.7 L1931.7,829.8 L1932.1,829.5 L1931.9,827.1 M1931.9,828.9 L1932.3,768 L1932.7,796.7 L1933.1,815 L1933.6,823 L1934,825.9 L1934.5,828 L1934.9,828.6 L1935.4,828.4 L1935.8,828.6 L1935.6,827.9 M1935.6,827.9 L1936,753.9 L1936.4,788.6 L1936.8,810.2 L1937.3,820 L1937.7,824.9 L1938.2,826.3 L1938.6,827.4 L1939.1,828 L1939.5,828 L1940,827.6 L1940.4,828.3 L1940.4,829 M1940.4,829.4 L1940.8,744.4 L1941.1,784.7 L1941.6,809.8 L1942,821 L1942.5,825.3 L1942.9,827.9 L1943.4,828.5 L1943.8,829.4 L1944.3,828.9 L1944.7,829.4 L1944.6,827.8 M1944.6,829 L1945,742.5 L1945.3,783.1 L1945.8,809.1 L1946.2,820.4 L1946.7,825.4 L1947.1,826.9 L1947.6,828.7 L1948,828.9 L1948.5,829 L1948.5,828.6 M1948.5,827.1 L1948.9,745.4 L1949.3,784.2 L1949.7,808.1 L1950.2,818.7 L1950.6,823.2 L1951.1,825.8 L1951.5,826.7 L1952,827.2 L1952.4,826.7 L1952.9,826.9 L1953.3,826.8 L1953.2,827.2 M1953.2,827.8 L1953.6,758.4 L1954,790.6 L1954.4,811.9 L1954.9,820.4 L1955.3,824.2 L1955.8,826 L1956.2,827.4 L1956.7,827.2 L1957.1,827.6 L1957.1,828 M1957.1,828.9 L1957.5,745 L1957.9,784.9 L1958.3,809.1 L1958.8,820.4 L1959.2,825.5 L1959.7,827.2 L1960.1,828.6 L1960.6,828.8 L1961,828.6 L1961.5,829.2 L1961.3,828.4 M1961.3,827.2 L1961.7,763.8 L1962,793.8 L1962.5,812.8 L1962.9,820.7 L1963.4,824.3 L1963.8,825.9 L1964.3,827.1 L1964.7,827.2 L1965.2,826.8 L1965.1,827.9 M1965.1,827.9 L1965.5,753.9 L1965.9,789.2 L1966.3,810.8 L1966.8,819.9 L1967.2,824.9 L1967.7,825.9 L1968.1,827.3 L1968.6,827.5 L1969,827.9 L1969,828 M1969,827.2 L1969.4,765.2 L1969.8,794.4 L1970.2,813 L1970.7,821.1 L1971.1,824.2 L1971.6,825.7 L1972,826.9 L1972.5,827.3 L1972.9,826.8 L1973.4,827.5 L1973.8,827.7 L1973.6,828 M1973.6,827.9 L1974,745.9 L1974.4,784.7 L1974.8,809.2 L1975.3,819.1 L1975.7,824 L1976.2,826.1 L1976.6,827.4 L1977.1,827.3 L1977.5,827.8 L1977.3,828.2 M1977.3,828.6 L1977.7,753.3 L1978.1,788.4 L1978.5,811.5 L1979,821.3 L1979.4,825.2 L1979.9,827.4 L1980.3,827.6 L1980.8,828.7 L1981.2,828.5 L1981.7,828.8 L1982.1,828.9 L1981.9,827.8 M1981.9,829.2 L1982.3,758.3 L1982.7,791.4 L1983.1,812.2 L1983.6,821.9 L1984,826.4 L1984.5,828.2 L1984.9,829 L1985.4,828.9 L1985.8,829.5 L1985.6,828.3 M1985.6,827.3 L1986,745.6 L1986.4,784.2 L1986.8,808.5 L1987.3,818.8 L1987.7,823.7 L1988.2,825.4 L1988.6,826.4 L1989.1,826.9 L1989.5,827.2 L1990,827.2 L1990.4,826.9 L1990.9,826.8 L1990.5,827.8 M1990.5,828.7 L1990.9,752.4 L1991.3,788.6 L1991.7,810.6 L1992.2,820.6 L1992.6,825.2 L1993.1,826.8 L1993.5,828.1 L1994,828.8 L1994.4,828.2 L1994.9,828.7 L1994.6,828.7 M1994.6,828.7 L1995,751.5 L1995.3,788.1 L1995.8,810.9 L1996.2,820.6 L1996.7,825.6 L1997.1,827.6 L1997.6,827.6 L1998,828.9 L1998.5,828.6 L1998.9,828.3 L1999.4,828.3 L1999.8,829 L2000.3,828.9 L2000,827.3 M2000,828 L2000.4,752.1 L2000.7,788 L2001.2,810.8 L2001.6,820.1 L2002.1,824.9 L2002.5,826.3 L2003,827.1 L2003.4,827.4 L2003.9,827.8 L2004.3,828.1 L2004.8,827.8 L2004.6,827.3 M2004.6,827.5 L2005,752 L2005.4,787.1 L2005.8,809.5 L2006.3,819.5 L2006.7,824 L2007.2,825.6 L2007.6,826.8 L2008.1,827.1 L2008.5,827.8 L2009,827.4 L2009,829.2 M2009,828.1 L2009.4,763.4 L2009.7,793.6 L2010.2,813.1 L2010.6,821 L2011.1,824.8 L2011.5,826.3 L2012,827.7 L2012.4,828.3 L2012.9,827.8 L2013.3,827.9 L2013.8,828 L2014.2,827.9 L2014.7,828.2 L2014.4,827.9 M2014.4,827.3 L2014.8,749.4 L2015.2,786.4 L2015.6,809.2 L2016.1,818.8 L2016.5,824.1 L2017,825.9 L2017.4,826.4 L2017.9,827.1 L2018.3,827.6 L2018.3,827.9 M2018.3,827.9 L2018.7,757.4 L2019.1,790.4 L2019.5,811.5 L2020,820.8 L2020.4,825 L2020.9,827 L2021.3,827 L2021.8,827.5 L2022.2,828.2 L2022.2,828.8 M2022.2,828.3 L2022.6,738.2 L2023,780.8 L2023.4,807.1 L2023.9,819.5 L2024.3,824.3 L2024.8,826.4 L2025.2,827.2 L2025.7,827.6 L2026.1,828.6 L2026.6,828.6 L2027,827.8 L2027.5,828.1 L2027.9,828.3 L2027.6,828.1 M2027.6,827.8 L2028,747.7 L2028.3,785.8 L2028.8,808.9 L2029.2,819.5 L2029.7,824.6 L2030.1,826.3 L2030.6,827 L2031,827.3 L2031.5,827.5 L2031.9,827.8 L2032.4,828 L2032.8,827.5 L2032.7,827.8 M2032.7,827.8 L2033.1,746.3 L2033.4,784.5 L2033.9,809.2 L2034.3,819.5 L2034.8,823.9 L2035.2,826 L2035.7,827.4 L2036.1,827.2 L2036.6,827.9 L2037,827.3 L2037.5,827.5 L2037.9,827.4 L2038,828.8 M2038,827.2 L2038.4,746.6 L2038.7,784.3 L2039.2,808 L2039.6,818.7 L2040.1,823.8 L2040.5,825.8 L2041,826.9 L2041.4,827.4 L2041.9,827.1 L2041.8,829.1 M2041.8,827.1 L2042.2,737.9 L2042.5,780.3 L2043,806.2 L2043.4,817.6 L2043.9,823.3 L2044.3,825.7 L2044.8,826.2 L2045.2,826.3 L2045.7,827.3 L2046.1,827.3 L2046.6,827.2 L2046.4,829.2 M2046.4,827 L2046.8,757.1 L2047.1,789.6 L2047.6,810.3 L2048,819.3 L2048.5,824 L2048.9,825.7 L2049.4,826 L2049.8,826.3 L2050.3,826.5 L2050.7,827 L2051.2,827.1 L2051.6,827.4 L2052.1,826.8 L2051.7,829.2 M2051.7,827.9 L2052.1,747.5 L2052.5,785.3 L2052.9,808.9 L2053.4,819.4 L2053.8,824.7 L2054.3,826.8 L2054.7,827.4 L2055.2,827.3 L2055.6,827.4 L2056.1,827.5 L2056.5,827.7 L2056.5,828.6 M2056.5,827 L2056.9,753.9 L2057.2,788.3 L2057.7,810.1 L2058.1,819 L2058.6,823.6 L2059,825.8 L2059.5,826.4 L2059.9,826.7 L2060.4,827.3 L2060.8,827 L2061.3,826.8 L2061,827.8 M2061,829.1 L2061.4,746.6 L2061.7,785.8 L2062.2,810.3 L2062.6,820.7 L2063.1,825 L2063.5,827.1 L2064,828.3 L2064.4,829 L2064.9,828.5 L2065.3,829.4 L2065,828.7 M2065,828.1 L2065.4,754.6 L2065.8,788.7 L2066.2,811.2 L2066.7,820.4 L2067.1,824.9 L2067.6,826.7 L2068,827.7 L2068.5,827.7 L2068.9,828.4 L2069.4,828.5 L2069.8,828.5 L2070.3,828.2 L2070.7,827.9 L2070.4,827.7 M2070.4,827.5 L2070.8,742.7 L2071.1,783 L2071.6,808 L2072,819 L2072.5,823.9 L2072.9,826.3 L2073.4,826.9 L2073.8,827 L2074.3,827.6 L2074.7,827.2 L2075.2,827.6 L2074.9,827.2 M2074.9,828.9 L2075.3,760.3 L2075.6,792.6 L2076.1,812.6 L2076.5,822.2 L2077,825.3 L2077.4,827.9 L2077.9,828.5 L2078.3,828.3 L2078.8,829 L2079.2,828.9 L2079.7,829.3 L2080.1,829 L2080.6,828.8 L2080.3,829.1 M2080.3,827 L2080.7,750 L2081,786.5 L2081.5,808.6 L2081.9,818.9 L2082.4,823.1 L2082.8,825.9 L2083.3,826.3 L2083.7,827 L2084.2,826.7 L2084,828.6 M2084,828.4 L2084.4,772 L2084.8,798.1 L2085.2,815.2 L2085.7,822.8 L2086.1,825.5 L2086.6,827.4 L2087,827.6 L2087.5,828 L2087.9,828.7 L2088.4,828.8 L2088.8,828.8 L2089.3,828.3 L2089.7,828.4 L2089.5,828.7 M2089.5,828.6 L2089.9,765.4 L2090.2,795.1 L2090.7,814.2 L2091.1,822 L2091.6,826.2 L2092,827.3 L2092.5,827.7 L2092.9,828.6 L2093.4,828.2 L2093.1,828.4 M2093.1,826.9 L2093.5,773.6 L2093.9,799.2 L2094.3,814.5 L2094.8,821.7 L2095.2,824.1 L2095.7,826 L2096.1,826.3 L2096.6,826.5 L2097,827.2 L2097.5,826.4 L2097.9,826.9 L2098.4,826.5 L2098.8,827.3 L2099.3,827.3 L2099.7,826.5 L2099.6,827.9" fill="none" stroke="#1818d8" stroke-width="1.5" stroke-linejoin="round"/><polyline points="1690,827 1691,826 1692,826 1693,827.5 1694,825.1 1695,828.1 1696,828.3 1697,825.6 1698,828.4 1699,828.1 1700,826.8 1701,827.5 1702,828.2 1703,825.1 1704,826.9 1705,825.7 1706,827.8 1707,825.1 1708,827.9 1709,825.1 1710,826.3 1711,824.9 1712,825.7 1713,826.2 1714,826.6 1715,825.3 1716,827 1717,828.3 1718,825.1 1719,825.5 1720,826 1721,825.7 1722,827.8 1723,826.8 1724,825.4 1725,824.8 1726,825 1727,828 1728,825.9 1729,826.4 1730,827 1731,828 1732,828.1 1733,826.7 1734,826.6 1735,827.5 1736,827.1 1737,826.4 1738,825.5 1739,826.2 1740,826.6 1741,817.9 1742,824.1 1743,817 1744,816.8 1745,826.8 1746,821.5 1747,816.9 1748,823.9 1749,821.9 1750,824.7 1751,828.2 1752,826 1753,827 1754,825.1 1755,820.9 1756,821.7 1757,817.1 1758,820.3 1759,824.1 1760,817.1 1761,820.9 1762,822 1763,818.1 1764,820.4 1765,824.2 1766,821.2 1767,824.9 1768,816.8 1769,825.5 1770,816.8 1771,827.7 1772,828.3 1773,821.8 1774,826 1775,822.4 1776,827 1777,818.4 1778,820.4 1779,820.2 1780,817.3 1781,816.5 1782,820.3 1783,819.9 1784,828.4 1785,827.9 1786,823.3 1787,816.8 1788,824.7 1789,821.6 1790,828.3 1791,823.5 1792,817.6 1793,821.4 1794,818.5 1795,828.3 1796,826 1797,826.3 1798,818.4 1799,827.2 1800,813.5 1801,824.1 1802,814.3 1803,820.2 1804,823.2 1805,813 1806,821.9 1807,817.3 1808,827.3 1809,815.1 1810,812.7 1811,826.6 1812,816.5 1813,824.1 1814,826 1815,822.6 1816,817.8 1817,813.1 1818,812.5 1819,812.5 1820,818.4 1821,817.9 1822,825.8 1823,816.8 1824,819.6 1825,822.6 1826,814 1827,824.3 1828,826.1 1829,825.9 1830,826 1831,819 1832,815.6 1833,825.8 1834,820.3 1835,819.2 1836,819.4 1837,821.8 1838,819.7 1839,828.1 1840,827.4 1841,821.6 1842,824.6 1843,816.3 1844,824.5 1845,815.2 1846,824.5 1847,826.9 1848,820.7 1849,822.2 1850,823 1851,816.1 1852,824.8 1853,817.6 1854,815 1855,821.1 1856,820.3 1857,813.6 1858,818.7 1859,825.4 1860,827.2 1861,827 1862,823 1863,826.9 1864,818 1865,821.6 1866,823.4 1867,820.1 1868,813.3 1869,824.4 1870,825.9 1871,823.4 1872,823.1 1873,813.8 1874,817 1875,821.5 1876,825.7 1877,827.6 1878,826.4 1879,814.8 1880,817.9 1881,825.8 1882,818.3 1883,827.4 1884,820.2 1885,822.9 1886,826.7 1887,816.4 1888,816.8 1889,820.1" fill="none" stroke="#2020e0" stroke-width="1.2"/><polyline points="717,835.7 718.1,837 719.2,836.4 720.3,837 721.4,835.5 722.5,837.6 723.6,835.3 724.7,835.9 725.8,836.3 726.9,835.8 728,835.5 729.1,837.1 730.2,837.9 731.3,836.1 732.4,836 733.5,837 734.6,835.8 735.7,836.3 736.8,837.1 737.9,836.4 739,835.7 740.1,835.4 741.2,836.7 742.3,837.8 743.4,837.6 744.5,835.5 745.6,836.6 746.7,836.5 747.8,835.8 748.9,837 750,836.5 751.1,837.3 752.2,836 753.3,837.7 754.4,837.4 755.5,836.5 756.6,835.6 757.7,836.5 758.8,835.6 759.9,837 761,837 762.1,836.7 763.2,837.8 764.3,835.3 765.4,837.1 766.5,837.3 767.6,835.5 768.7,836 769.8,835.3 770.9,836.7 772,837.1 773.1,836.1 774.2,837 775.3,836.2 776.4,837 777.5,835.9 778.6,837.7 779.7,836.3 780.8,835.2 781.9,835.4 783,837.1 784.1,837.4 785.2,836.8 786.3,835.6 787.4,837.4 788.5,837 789.6,835.5 790.7,836.2 791.8,836.9 792.9,835.2 794,835.3 795.1,836.1 796.2,837.4 797.3,837.7 798.4,836 799.5,837.5 800.6,837.2 801.7,837.4 802.8,836.7 803.9,837.7 805,836.8 806.1,837.6 807.2,836.6 808.3,835.6 809.4,836.5 810.5,836.4 811.6,836 812.7,836.1 813.8,836.5 814.9,836.7 816,835.7 817.1,835.8 818.2,836.4 819.3,836.4 820.4,836.2 821.5,836.8 822.6,835.6 823.7,836.5 824.8,835.8 825.9,837.1 827,836.9 828.1,837.1 829.2,836.4 830.3,835.7 831.4,837.5 832.5,836.4 833.6,836.1 834.7,835.8 835.8,836.1 836.9,836.9 838,837.2 839.1,836.3 840.2,837 841.3,835.6 842.4,836.3 843.5,836 844.6,835.9 845.7,836 846.8,837 847.9,837 849,835.6 850.1,835.7 851.2,837.1 852.3,836.8 853.4,836.8 854.5,836.7 855.6,836.9 856.7,835.8 857.8,835.2 858.9,836 860,835.1 861.1,837.5 862.2,836.4 863.3,836.8 864.4,837.6 865.5,837.1 866.6,835.6 867.7,835.9 868.8,835.3 869.9,837.1 871,836.9 872.1,836.3 873.2,836 874.3,835.7 875.4,836.3 876.5,836.9 877.6,837.3 878.7,837.2 879.8,837.3 880.9,836.2 882,836.1 883.1,835.8 884.2,837.5 885.3,835.5 886.4,835.4 887.5,835.7 888.6,837.4 889.7,837.2 890.8,835.9 891.9,837.2 893,837.3 894.1,836.1 895.2,835.5 896.3,837 897.4,836 898.5,835.3 899.6,837.3 900.7,836.1 901.8,836 902.9,836.5 904,835.6 905.1,835 906.2,836 907.3,835.9 908.4,835 909.5,835.9 910.6,836.9 911.7,835.8 912.8,836.7 913.9,836.6 915,835.4 916.1,835 917.2,836.7 918.3,836.5 919.4,835.7 920.5,835.5 921.6,837.2 922.7,837.3 923.8,835.5 924.9,836.5 926,836.4 927.1,835.8 928.2,835 929.3,835.8 930.4,836.6 931.5,836.5 932.6,836.2 933.7,835.2 934.8,835.5 935.9,835.7 937,836 938.1,835.9 939.2,837.3 940.3,835.2 941.4,837.5 942.5,835.5 943.6,837.1 944.7,835.5 945.8,836.4 946.9,835.9 948,835 949.1,837 950.2,837 951.3,835.6 952.4,836.9 953.5,836.1 954.6,837.4 955.7,835 956.8,835.9 957.9,835.5 959,836.5 960.1,836.9 961.2,837.1 962.3,836.3 963.4,835.9 964.5,836.9 965.6,835.1 966.7,835.5 967.8,836.8 968.9,836 970,837.4 971.1,835.1 972.2,836 973.3,835.4 974.4,834.9 975.5,835.1 976.6,835.1 977.7,835.8 978.8,836 979.9,836.2 981,835.6 982.1,836.7 983.2,836.2 984.3,837.4 985.4,835.3 986.5,836.2 987.6,836.1 988.7,835.8 989.8,837.1 990.9,835.4 992,837.1 993.1,835.7 994.2,835.7 995.3,836.4 996.4,836.3 997.5,835.5 998.6,835 999.7,837.3 1000.8,835.8 1001.9,835.1 1003,836.5 1004.1,836.2 1005.2,835.6 1006.3,835.6 1007.4,836.9 1008.5,835.6 1009.6,835.8 1010.7,837.2 1011.8,835.7 1012.9,835.8 1014,835.1 1015.1,836.4 1016.2,836.4 1017.3,835.8 1018.4,835.7 1019.5,835.3 1020.6,836.7 1021.7,835.8 1022.8,836.8 1023.9,835.6 1025,836.5 1026.1,834.7 1027.2,835.2 1028.3,837.1 1029.4,836.4 1030.5,836.4 1031.6,835.9 1032.7,835.8 1033.8,835.1 1034.9,835 1036,836.2 1037.1,836.4 1038.2,835.2 1039.3,836.2 1040.4,834.9 1041.5,836.1 1042.6,835 1043.7,835.8 1044.8,835.3 1045.9,835.9 1047,834.8 1048.1,835.7 1049.2,836.1 1050.3,834.8 1051.4,835.3 1052.5,836.2 1053.6,835.9 1054.7,836 1055.8,836.5 1056.9,835.9 1058,835 1059.1,835.6 1060.2,836.6 1061.3,835.9 1062.4,836.3 1063.5,835.3 1064.6,835.5 1065.7,836.9 1066.8,836.5 1067.9,836 1069,834.6 1070.1,835.9 1071.2,834.4 1072.3,836.7 1073.4,836.8 1074.5,836.2 1075.6,835 1076.7,836.5 1077.8,834.7 1078.9,836.4 1080,835.6 1081.1,834.3 1082.2,836.6 1083.3,835.4 1084.4,836.4 1085.5,836 1086.6,835.6 1087.7,836.5 1088.8,834.7 1089.9,836.5 1091,835.1 1092.1,834.3 1093.2,835.1 1094.3,834.3 1095.4,834.4 1096.5,835.8 1097.6,834.5 1098.7,834.6 1099.8,834.9 1100.9,834.9 1102,836.5 1103.1,836.5 1104.2,836.4 1105.3,836.7 1106.4,835.2 1107.5,836.2 1108.6,834.8 1109.7,836.5 1110.8,836.2 1111.9,836 1113,834.6 1114.1,834.3 1115.2,836.4 1116.3,835.5 1117.4,835.6 1118.5,836.3 1119.6,834.4 1120.7,835.8 1121.8,835.2 1122.9,836 1124,835.2 1125.1,834.5 1126.2,836.4 1127.3,834.7 1128.4,835.9 1129.5,836.1 1130.6,834.6 1131.7,835.7 1132.8,834.9 1133.9,834.5 1135,834.5 1136.1,836.4 1137.2,834.8 1138.3,835.2 1139.4,835.2 1140.5,833.9 1141.6,835.8 1142.7,835.8 1143.8,836.1 1144.9,834.8 1146,834.4 1147.1,834.7 1148.2,835.7 1149.3,835.5 1150.4,834.9 1151.5,835.2 1152.6,834.2 1153.7,836.2 1154.8,835 1155.9,835.1 1157,835.8 1158.1,834.3 1159.2,835.6 1160.3,834.6 1161.4,835.8 1162.5,834 1163.6,834.4 1164.7,835.4 1165.8,834.9 1166.9,834.7 1168,835.2 1169.1,834.2 1170.2,834.8 1171.3,833.7 1172.4,835.7 1173.5,834.3 1174.6,835.8 1175.7,835.1 1176.8,835.2 1177.9,835.2 1179,833.9 1180.1,835.6 1181.2,834.4 1182.3,835.8 1183.4,835.6 1184.5,835.3 1185.6,835.7 1186.7,834.7 1187.8,835.3 1188.9,836 1190,834 1191.1,833.8 1192.2,834.6 1193.3,834.8 1194.4,833.9 1195.5,834.1 1196.6,835.7 1197.7,834.5 1198.8,833.9 1199.9,833.9 1201,835 1202.1,833.9 1203.2,834.7 1204.3,834.8 1205.4,834.6 1206.5,834.7 1207.6,835.6 1208.7,833.5 1209.8,835.8 1210.9,833.9 1212,833.5 1213.1,835.4 1214.2,834.9 1215.3,834.8 1216.4,833.9 1217.5,835.4 1218.6,834.1 1219.7,835.2 1220.8,833.9 1221.9,834.8 1223,835 1224.1,834.3 1225.2,834.5 1226.3,833.5 1227.4,835 1228.5,835.1 1229.6,833.7 1230.7,834.7 1231.8,835.2 1232.9,833.5 1234,835.4 1235.1,835.5 1236.2,833.4 1237.3,833.9 1238.4,833.4 1239.5,833.9 1240.6,833.4 1241.7,834.5 1242.8,833.8 1243.9,834 1245,834.4 1246.1,834.1 1247.2,835.2 1248.3,835 1249.4,833.4 1250.5,833.7 1251.6,833.1 1252.7,834 1253.8,833.4 1254.9,834.9 1256,835.1 1257.1,835.7 1258.2,833.6 1259.3,833.2 1260.4,835 1261.5,834.1 1262.6,835.5 1263.7,834.1 1264.8,833.8 1265.9,833.2 1267,835.5 1268.1,834.3 1269.2,834.2 1270.3,834.1 1271.4,835 1272.5,835.1 1273.6,834.2 1274.7,833.4 1275.8,834 1276.9,835.3 1278,834 1279.1,834.7 1280.2,834.4 1281.3,834.1 1282.4,834.4 1283.5,833.5 1284.6,834.4 1285.7,835.1 1286.8,833.1 1287.9,833.8 1289,835.2 1290.1,835.4 1291.2,832.9 1292.3,834.5 1293.4,834.5 1294.5,835 1295.6,834.1 1296.7,833.2 1297.8,833.6 1298.9,834.7 1300,834.7 1301.1,833.3 1302.2,834.4 1303.3,834.5 1304.4,834.5 1305.5,832.8 1306.6,833.9 1307.7,833.5 1308.8,834.2 1309.9,833.5 1311,833 1312.1,834.4 1313.2,833.4 1314.3,834.7 1315.4,833.4 1316.5,834 1317.6,834.7 1318.7,832.9 1319.8,834.4 1320.9,832.7 1322,834.9 1323.1,832.6 1324.2,834.4 1325.3,833.4 1326.4,832.9 1327.5,833.5 1328.6,833.7 1329.7,833.5 1330.8,832.7 1331.9,833.7 1333,833.1 1334.1,834.9 1335.2,833.3 1336.3,833.4 1337.4,832.9 1338.5,834.8 1339.6,833.1 1340.7,833.9 1341.8,834.4 1342.9,833.3 1344,834.2 1345.1,832.9 1346.2,832.5 1347.3,832.3 1348.4,833.3 1349.5,834.4 1350.6,832.7 1351.7,833.3 1352.8,834.1 1353.9,832.8 1355,832.5 1356.1,833.4 1357.2,833.1 1358.3,834.5 1359.4,834.3 1360.5,832.6 1361.6,833.4 1362.7,833 1363.8,832 1364.9,833.1 1366,834.3 1367.1,832.7 1368.2,833.4 1369.3,833.7 1370.4,832 1371.5,834.2 1372.6,832.1 1373.7,832.6 1374.8,833.7 1375.9,831.8 1377,832.7 1378.1,832.1 1379.2,833 1380.3,831.8 1381.4,832.1 1382.5,832.3 1383.6,831.9 1384.7,831.9 1385.8,832.2 1386.9,833 1388,832 1389.1,833.7 1390.2,832.7 1391.3,832.2 1392.4,832.2 1393.5,833.7 1394.6,831.7 1395.7,833.5 1396.8,831.8 1397.9,834 1399,832.5 1400.1,833 1401.2,833.7 1402.3,831.7 1403.4,831.6 1404.5,833.2 1405.6,832.9 1406.7,833.3 1407.8,832.1 1408.9,832.6 1410,831.8 1411.1,832.5 1412.2,832 1413.3,832.8 1414.4,832.1 1415.5,832 1416.6,832.9 1417.7,831.5 1418.8,833.3 1419.9,832.5 1421,831.8 1422.1,831.5 1423.2,832.5 1424.3,832.5 1425.4,833 1426.5,832.1 1427.6,832.2 1428.7,833.4 1429.8,831.8 1430.9,833.6 1432,833.4 1433.1,833.6 1434.2,833.5 1435.3,831.7 1436.4,833.1 1437.5,832.6 1438.6,831.5 1439.7,833.5 1440.8,832.6 1441.9,833 1443,832.3 1444.1,831.1 1445.2,833.1 1446.3,831.3 1447.4,831.5 1448.5,832.4 1449.6,831.3 1450.7,832 1451.8,832.6 1452.9,831 1454,832.5 1455.1,831 1456.2,832 1457.3,832.4 1458.4,832.5 1459.5,830.8 1460.6,831.2 1461.7,833.1 1462.8,831.6 1463.9,831.7 1465,831.6 1466.1,832.4 1467.2,832.5 1468.3,832.2 1469.4,831.6 1470.5,832 1471.6,831.9 1472.7,831 1473.8,833 1474.9,833 1476,832.5 1477.1,833 1478.2,831.6 1479.3,832.6 1480.4,831 1481.5,832.3 1482.6,832.2 1483.7,832.8 1484.8,832.5 1485.9,832.6 1487,831 1488.1,832.3 1489.2,831.5 1490.3,831.1 1491.4,831.2 1492.5,832.3 1493.6,832.4 1494.7,832.4 1495.8,831.9 1496.9,830.6 1498,830.6 1499.1,831.6 1500.2,830.7 1501.3,831 1502.4,830.4 1503.5,830.5 1504.6,831.9 1505.7,830.6 1506.8,832.2 1507.9,830.9 1509,832.2 1510.1,830.8 1511.2,830.7 1512.3,831 1513.4,830 1514.5,831.1 1515.6,830.9 1516.7,829.9 1517.8,832.1 1518.9,830.9 1520,829.9 1521.1,832.3 1522.2,830.4 1523.3,830.5 1524.4,829.9 1525.5,830.1 1526.6,831.6 1527.7,831.3 1528.8,831.1 1529.9,830.4 1531,830.5 1532.1,832.2 1533.2,830.7 1534.3,832.2 1535.4,832 1536.5,830 1537.6,831.8 1538.7,829.7 1539.8,831.5 1540.9,831.7 1542,831.4 1543.1,831 1544.2,831.7 1545.3,829.9 1546.4,830.9 1547.5,830.2 1548.6,830.5 1549.7,830 1550.8,831.3 1551.9,830.9 1553,831.5 1554.1,831 1555.2,831 1556.3,831.8 1557.4,831.5 1558.5,830.8 1559.6,830.2 1560.7,831.7 1561.8,830.3 1562.9,829.6 1564,830.1 1565.1,831.1 1566.2,831.7 1567.3,830.9 1568.4,830.9 1569.5,831.6 1570.6,831.2 1571.7,830.3 1572.8,830.4 1573.9,831.1 1575,830 1576.1,829.4 1577.2,830.7 1578.3,831.2 1579.4,829.7 1580.5,830.8 1581.6,831.4 1582.7,829.4 1583.8,829.4 1584.9,830.3 1586,829.9 1587.1,831.4 1588.2,831.5 1589.3,830.1 1590.4,831 1591.5,830.6 1592.6,829.3 1593.7,831.4 1594.8,829.3 1595.9,829.1 1597,830 1598.1,828.9 1599.2,830.1 1600.3,829.9 1601.4,831.3 1602.5,829.9 1603.6,831 1604.7,830.8 1605.8,830.3 1606.9,829.4 1608,829.5 1609.1,830 1610.2,829.8 1611.3,830.4 1612.4,830 1613.5,829.5 1614.6,830.3 1615.7,831.3 1616.8,829.2 1617.9,829.6 1619,828.7 1620.1,828.9 1621.2,828.8 1622.3,829.8 1623.4,830.8 1624.5,830.5 1625.6,831.1 1626.7,830.8 1627.8,830.1 1628.9,830.1 1630,828.6 1631.1,829.6 1632.2,829.3 1633.3,830.2 1634.4,828.7 1635.5,830 1636.6,829.5 1637.7,829.8 1638.8,829.6 1639.9,828.8 1641,830.4 1642.1,830.6 1643.2,830.1 1644.3,828.8 1645.4,830.1 1646.5,830.8 1647.6,831 1648.7,830.4 1649.8,828.6 1650.9,830.7 1652,830.2 1653.1,829.2 1654.2,830.8 1655.3,830.6 1656.4,830.8 1657.5,829.1 1658.6,829.9 1659.7,829.4 1660.8,829.2 1661.9,830.4 1663,830 1664.1,829.2 1665.2,829.8 1666.3,830.8 1667.4,829.8 1668.5,830.7 1669.6,829.8 1670.7,830.9 1671.8,828.4 1672.9,829.5 1674,829.7 1675.1,830.2 1676.2,830.8 1677.3,829.9 1678.4,829.5 1679.5,829.9 1680.6,829.6 1681.7,830.1 1682.8,830.7 1683.9,828.3 1685,829.1 1686.1,830.5 1687.2,828.4 1688.3,830.3 1689.4,828.3 1690.5,829.9 1691.6,830.3 1692.7,828.8 1693.8,829.2 1694.9,828.8 1696,830 1697.1,829.5 1698.2,829.7 1699.3,829 1700.4,829.7 1701.5,830.6 1702.6,830.1 1703.7,830.6 1704.8,828.7 1705.9,829.4 1707,829.1 1708.1,829 1709.2,830.2 1710.3,828.5 1711.4,829.5 1712.5,830.1 1713.6,830.5 1714.7,828.1 1715.8,828.7 1716.9,829.3 1718,830.4 1719.1,828.4 1720.2,830.2 1721.3,829 1722.4,829.4 1723.5,830.4 1724.6,828.1 1725.7,828.8 1726.8,828.4 1727.9,828.3 1729,828.7 1730.1,829.8 1731.2,829.4 1732.3,828.2 1733.4,830 1734.5,829.2 1735.6,828.3 1736.7,830 1737.8,830 1738.9,828.4 1740,830.3 1741.1,830 1742.2,828.4 1743.3,827.8 1744.4,830.1 1745.5,830 1746.6,828.1 1747.7,829.8 1748.8,829.8 1749.9,829.4 1751,830 1752.1,830.4 1753.2,828.6 1754.3,830 1755.4,830.2 1756.5,828.6 1757.6,829.6 1758.7,829.6 1759.8,830 1760.9,829.3 1762,828.5 1763.1,828.4 1764.2,829.2 1765.3,828.1 1766.4,830 1767.5,830.1 1768.6,828.4 1769.7,829.6 1770.8,829.5 1771.9,828.1 1773,829.8 1774.1,829.8 1775.2,828.6 1776.3,828 1777.4,828.5 1778.5,829.8 1779.6,829 1780.7,829.9 1781.8,828.2 1782.9,828 1784,828.7 1785.1,830 1786.2,828.2 1787.3,827.9 1788.4,829.7 1789.5,828 1790.6,829.5 1791.7,828 1792.8,828.4 1793.9,829.5 1795,830 1796.1,828.8 1797.2,828.9 1798.3,827.8 1799.4,828.6 1800.5,828.4 1801.6,829.8 1802.7,829.6 1803.8,829.8 1804.9,829.1 1806,829.5 1807.1,828 1808.2,828.7 1809.3,828.5 1810.4,828.4 1811.5,829.6 1812.6,828.3 1813.7,828.6 1814.8,828.4 1815.9,830 1817,829.4 1818.1,829 1819.2,828.7 1820.3,830.1 1821.4,830.1 1822.5,828.9 1823.6,829.2 1824.7,829.9 1825.8,828.4 1826.9,828.4 1828,828 1829.1,829 1830.2,829.7 1831.3,828.1 1832.4,828.8 1833.5,830.3 1834.6,828.9 1835.7,828.7 1836.8,829.9 1837.9,830 1839,828.6 1840.1,828 1841.2,829.3 1842.3,829.6 1843.4,830.1 1844.5,829.4 1845.6,828.5 1846.7,829 1847.8,828.4 1848.9,828.8 1850,828.9 1851.1,830 1852.2,830 1853.3,830.1 1854.4,828.9 1855.5,830.2 1856.6,828 1857.7,830 1858.8,829.3 1859.9,829.9 1861,828.7 1862.1,830.2 1863.2,827.7 1864.3,829.8 1865.4,829.8 1866.5,828.6 1867.6,829.8 1868.7,828.2 1869.8,829.6 1870.9,828.8 1872,828.7 1873.1,828.1 1874.2,829.7 1875.3,829.5 1876.4,827.8 1877.5,830.2 1878.6,828.2 1879.7,828.6 1880.8,828.7 1881.9,829.1 1883,829.9 1884.1,830.1 1885.2,829.2 1886.3,828.6 1887.4,827.9 1888.5,827.8 1889.6,828.9 1890.7,829.1 1891.8,828.8 1892.9,830.1 1894,828.7 1895.1,828.5 1896.2,828.7 1897.3,828 1898.4,830 1899.5,829.1 1900.6,829 1901.7,828.7 1902.8,828.2 1903.9,828.4 1905,828.9 1906.1,828.7 1907.2,830.1 1908.3,829 1909.4,828.1 1910.5,827.7 1911.6,828 1912.7,828.5 1913.8,829.6 1914.9,829.9 1916,828.2 1917.1,829.6 1918.2,828.7 1919.3,829 1920.4,828.9 1921.5,827.7 1922.6,827.7 1923.7,829.3 1924.8,829.3 1925.9,828.5 1927,829.9 1928.1,829.7 1929.2,828.3 1930.3,827.7 1931.4,829 1932.5,829.2 1933.6,828.1 1934.7,827.6 1935.8,828.8 1936.9,827.6 1938,829.4 1939.1,829.2 1940.2,828.2 1941.3,828.7 1942.4,828.1 1943.5,828 1944.6,828 1945.7,829.6 1946.8,828.7 1947.9,829.4 1949,828.4 1950.1,829.6 1951.2,829.1 1952.3,829.2 1953.4,828.5 1954.5,829 1955.6,828 1956.7,830 1957.8,829.2 1958.9,828.9 1960,829.2 1961.1,827.8 1962.2,828.4 1963.3,828.1 1964.4,829.7 1965.5,827.5 1966.6,828.6 1967.7,829.7 1968.8,829.5 1969.9,829.3 1971,828.3 1972.1,828.1 1973.2,829.3 1974.3,828.3 1975.4,829.4 1976.5,828.4 1977.6,829.4 1978.7,829 1979.8,829.6 1980.9,830 1982,828.4 1983.1,830 1984.2,827.5 1985.3,829.7 1986.4,827.5 1987.5,828.9 1988.6,828.5 1989.7,829.5 1990.8,828.3 1991.9,828 1993,829.5 1994.1,828.9 1995.2,829.4 1996.3,828.7 1997.4,827.5 1998.5,829.4 1999.6,828 2000.7,828.7 2001.8,827.4 2002.9,828.1 2004,829.2 2005.1,829.4 2006.2,829.1 2007.3,828.6 2008.4,829.3 2009.5,829.2 2010.6,828 2011.7,828.8 2012.8,829 2013.9,829.3 2015,827.9 2016.1,828.2 2017.2,828.3 2018.3,827.7 2019.4,828.3 2020.5,829.3 2021.6,828.9 2022.7,827.9 2023.8,829.3 2024.9,827.7 2026,829.4 2027.1,827.8 2028.2,827.6 2029.3,828 2030.4,828.7 2031.5,828.1 2032.6,829.7 2033.7,829.8 2034.8,828.1 2035.9,829.3 2037,829.2 2038.1,828.8 2039.2,828 2040.3,829.8 2041.4,829.9 2042.5,827.4 2043.6,828.2 2044.7,828.2 2045.8,827.9 2046.9,828.5 2048,829.7 2049.1,827.4 2050.2,829.5 2051.3,828.2 2052.4,827.4 2053.5,829.7 2054.6,828.1 2055.7,827.9 2056.8,827.7 2057.9,828.3 2059,827.7 2060.1,827.8 2061.2,828 2062.3,828.8 2063.4,828.5 2064.5,828.1 2065.6,828.7 2066.7,829.4 2067.8,829.2 2068.9,828.2 2070,829.7 2071.1,829.4 2072.2,828.8 2073.3,828.6 2074.4,828.2 2075.5,827.7 2076.6,829.6 2077.7,828.9 2078.8,827.6 2079.9,829.7 2081,829.6 2082.1,827.4 2083.2,829.1 2084.3,827.9 2085.4,828.7 2086.5,829.5 2087.6,828.2 2088.7,828.6 2089.8,829 2090.9,827.8 2092,828.9 2093.1,828.4 2094.2,829.9" fill="none" stroke="#1414d0" stroke-width="2"/><polyline points="1886,747.3 1887.4,828.9 1888.4,738.6 1889.8,826.8 1890.9,747.2 1892,828.2 1893.3,740.3 1894.7,829.2 1895.7,758.5 1897,826.6 1898.2,753.5 1899.4,822.8 1900.6,746.1 1902,822.9 1903.1,743 1904.2,824.4 1905.1,745 1906.5,820.8 1907.7,751.5 1908.7,803.3 1910,748.5 1911.2,792.7 1912.2,764 1913.3,827.1 1914.2,748.8 1915.3,824.2 1916.3,752.1 1917.5,826.9 1918.4,771.4 1919.9,828.8 1920.9,762.9 1922,800.3 1923.2,757 1924.5,826.5 1925.6,778.8 1926.8,809 1927.7,755.5 1928.9,818.7 1930.1,764.8 1931.1,826.8 1932.3,755.6 1933.7,826.9 1934.9,741.4 1936,825.1 1937.2,742 1938.4,829.4 1939.4,742.1 1940.9,807.5 1941.9,739.3 1943.2,826.7 1944.3,763.4 1945.4,795.4 1946.6,737.5 1948,828.1 1949.4,742.1 1950.6,818 1951.6,748.8 1952.6,799.4 1953.9,742.4 1955.3,824.6 1956.4,743.8 1957.4,827.2 1958.7,767.4 1959.8,820.6 1961.1,750.1 1962.6,828.8 1963.5,750.5 1964.9,809.9 1966.3,751.2 1967.6,814.5 1969,757.6 1970.3,801.2 1971.6,759.7 1972.7,816.3 1974.1,743.1 1975.5,824.9 1976.4,744.8 1977.8,814.5 1978.7,758.5 1980.1,806.2 1981,765.2 1982.5,826.8 1983.5,743 1984.9,818.3 1986.1,740.2 1987.5,826.9 1988.6,741.5 1989.9,825.2 1991.3,755.4 1992.6,827.6 1993.7,763.4 1995.1,820.4 1996.4,746.7 1997.5,826.8 1998.8,746.7 2000,805.5 2001.2,753.1 2002.3,791.8 2003.3,761.7 2004.4,815.6 2005.7,761 2007,825.6 2008.1,747.3 2009.1,826.7 2010.4,754.5 2011.9,827.2 2013.1,760.4 2014.4,825.5 2015.4,762.1 2016.7,827.4 2018,741.1 2019.5,826.2 2020.5,757 2021.6,826.8 2022.6,738.7 2023.7,789.7 2024.7,738.8 2026.2,807.6 2027.3,742.3 2028.4,827.1 2029.3,747.2 2030.6,823 2031.7,740 2033,812.2 2034.1,750.8 2035.3,828.1 2036.6,755.6 2038,815.1 2039.2,743.3 2040.2,825.7 2041.5,738.3 2042.7,817.4 2043.9,742.1 2045.3,825.3 2046.7,742.1 2047.8,809.3 2049,745.5 2050.2,812.4 2051.4,766.3 2052.7,791 2053.9,755.9 2055,787.2 2055.9,752.1 2056.9,824.4 2058.1,743.9 2059.5,793 2060.5,764.1 2061.6,828.7 2062.9,758.9 2064.2,828.9 2065.3,758.2 2066.7,822.8 2067.9,744.1 2069,801.1 2070.1,746.8 2071.2,828.6 2072.3,745.9 2073.5,825 2074.7,749.1 2076.2,828.9 2077.5,746.8 2078.8,826.1 2080.2,743.4 2081.3,828.2 2082.4,750.5 2083.8,828.9 2085,769.2 2086.4,808.4 2087.4,769.1 2088.8,825.6 2089.9,752.5 2091.2,827.6 2092.2,764.3 2093.4,799 2094.8,762.2 2096.1,802.4" fill="none" stroke="#1c1cd8" stroke-width="1.25" stroke-linejoin="round"/></g>
<g clip-path="url(#clipe)"><polyline points="712,1057 718.2,1055.2 724.3,1051.1 730.5,1045 735.6,1053.8 738.7,1046 743.8,1043.9 750,1049.1 753,1058.3 757.1,1065.5 760.2,1076.7 765.3,1083.9 771.5,1093.1 776.6,1091.1 785.8,1095.2 798.1,1096.8 806.3,1087 814.5,1080.8 820.7,1064.4 826.8,1060.3 833,1062.4 839.1,1081.8 849.3,1094.1 861.6,1039.8 875,1110.5 888.3,1035.7 895.5,1059.3 900.6,1093.1 910.8,1094.1 917,1102.3 923.1,1063.4 929.3,1059.3 937.5,1061.4 941.6,1056.2 953.9,996.8 967.2,1071.6 980.5,1031.6 985.6,1063.4 992.8,1095.2 1001,1094.1 1006.1,1076.7 1013.3,1065.5 1020.5,1066.5 1027.7,1069.5 1032.8,1067.5 1037.9,1078.8 1043,1082.9 1049.2,1081.8 1057.4,1089 1071.7,1040.9 1084,1075.7 1089.1,1070.6 1096.3,1072.6 1105.5,1073.6 1111.7,1078.8 1117.8,1074.7 1121.9,1077.7 1123,1065.5 1134.2,1061.4 1141.4,1069.5 1147.5,1070.6 1158.8,1082.9 1171.1,1088 1182.4,1087.4 1191.6,1090 1196.7,1088 1209,1089.4 1214.1,1087 1217.2,1077.7 1223.4,1076.7 1233.6,1081.8 1240.8,1098.2 1246.9,1098.2 1258.2,1091.1 1266.4,1086.6 1277.7,1089 1284.8,1081.8 1291,1083.9 1296.1,1080.8 1304.3,1071.6 1312.5,1073.6 1317.7,1076.3 1323.8,1065.5 1331,1058.3 1339.2,1060.3 1344.3,1063.4 1351.5,1061.4 1357.6,1049.1 1362.7,1041.9 1367.9,1029.6 1370.9,1018.3 1376.1,1014.2 1380.2,1009.1 1385.3,997.8 1393.5,994.8 1402.7,995.8 1405.8,1007 1409.9,1039.8 1417,1056.2 1426.3,1060.3 1435.5,1045 1441.6,1032.7 1450.9,1038.8 1458,1033.7 1465.2,1031.6 1471.4,1035.7 1475.5,1045 1482.6,1051.1 1492.9,1057.3 1504.1,1080.8 1511.3,1085.9 1519.5,1075.7 1524.6,1077.7 1533.8,1074.7 1546.1,1074.7 1551.3,1065.5 1556.4,1039.8 1561.5,1028.6 1569.7,1027.5 1573.8,1024.5 1583,1027.5 1589.2,1024.5 1595.4,1027.1 1598.4,1020.4 1604.6,1017.3 1613.8,1011.1 1616.9,1003 1623,1000.9 1628.2,1003 1633.3,1011.1 1639.4,1013.2 1649.7,1013.2 1653.8,1005 1663,956.8 1670.2,953.8 1673.2,949.7 1677.3,949.7 1681.4,960.9 1685.5,966.1 1689.6,968.1 1693.7,982.5 1697.8,987.6 1703,991.7 1708.1,1003 1714.2,995.8 1721.4,970.2 1731.6,902.5 1735.7,898.4 1743.9,894.3 1748,891.3 1752.1,898.4 1756.2,916.9 1763.4,926.1 1770.6,924.7 1778.8,926.1 1781.8,923 1789,934.3 1797.2,929.2 1803.4,923 1815.7,923 1822.8,927.1 1831,942.5 1837.2,942.5 1844.3,933.3 1850.5,906.6 1857.7,903.6 1865.8,906.6 1870,909.7 1874.1,911.8 1879.2,922 1885.4,929.2 1894.6,943.5 1899.7,944.5 1905.9,948.6 1912,947.6 1920.2,928.2 1925.3,929.2 1934.5,928.2 1939.7,934.3 1944.8,931.2 1949.9,941.5 1956.1,938.4 1962.2,934.3 1970.4,936.4 1978.6,939.4 1983.7,937.4 1990.9,952.7 1998.1,953.8 2004.2,956.8 2009.3,945.6 2015.5,949.7 2021.6,939.4 2031.9,937.4 2036,931.2 2041.1,935.3 2045.2,947.6 2051.4,962 2058.5,992.7 2064.7,1027.5 2072.9,1033.7 2079,1029.6 2085.2,1023.4 2092.3,1013.2 2098,1008" fill="none" stroke="#0000ff" stroke-width="5" stroke-linejoin="round"/></g>
<rect x="717.5" y="68" width="1376.5" height="241.8" fill="none" stroke="#000" stroke-width="2.6"/>
<line x1="848.6" y1="309.8" x2="848.6" y2="318.3" stroke="#000" stroke-width="2.3"/>
<line x1="1012.5" y1="309.8" x2="1012.5" y2="318.3" stroke="#000" stroke-width="2.3"/>
<line x1="1176.3" y1="309.8" x2="1176.3" y2="318.3" stroke="#000" stroke-width="2.3"/>
<line x1="1340.2" y1="309.8" x2="1340.2" y2="318.3" stroke="#000" stroke-width="2.3"/>
<line x1="1504.1" y1="309.8" x2="1504.1" y2="318.3" stroke="#000" stroke-width="2.3"/>
<line x1="1667.9" y1="309.8" x2="1667.9" y2="318.3" stroke="#000" stroke-width="2.3"/>
<line x1="1831.8" y1="309.8" x2="1831.8" y2="318.3" stroke="#000" stroke-width="2.3"/>
<line x1="1995.7" y1="309.8" x2="1995.7" y2="318.3" stroke="#000" stroke-width="2.3"/>
<rect x="717.5" y="338.8" width="1376.5" height="241.2" fill="none" stroke="#000" stroke-width="2.6"/>
<line x1="848.6" y1="580" x2="848.6" y2="588.5" stroke="#000" stroke-width="2.3"/>
<line x1="1012.5" y1="580" x2="1012.5" y2="588.5" stroke="#000" stroke-width="2.3"/>
<line x1="1176.3" y1="580" x2="1176.3" y2="588.5" stroke="#000" stroke-width="2.3"/>
<line x1="1340.2" y1="580" x2="1340.2" y2="588.5" stroke="#000" stroke-width="2.3"/>
<line x1="1504.1" y1="580" x2="1504.1" y2="588.5" stroke="#000" stroke-width="2.3"/>
<line x1="1667.9" y1="580" x2="1667.9" y2="588.5" stroke="#000" stroke-width="2.3"/>
<line x1="1831.8" y1="580" x2="1831.8" y2="588.5" stroke="#000" stroke-width="2.3"/>
<line x1="1995.7" y1="580" x2="1995.7" y2="588.5" stroke="#000" stroke-width="2.3"/>
<rect x="717.5" y="609.8" width="1376.5" height="241.2" fill="none" stroke="#000" stroke-width="2.6"/>
<line x1="848.6" y1="851" x2="848.6" y2="859.5" stroke="#000" stroke-width="2.3"/>
<line x1="1012.5" y1="851" x2="1012.5" y2="859.5" stroke="#000" stroke-width="2.3"/>
<line x1="1176.3" y1="851" x2="1176.3" y2="859.5" stroke="#000" stroke-width="2.3"/>
<line x1="1340.2" y1="851" x2="1340.2" y2="859.5" stroke="#000" stroke-width="2.3"/>
<line x1="1504.1" y1="851" x2="1504.1" y2="859.5" stroke="#000" stroke-width="2.3"/>
<line x1="1667.9" y1="851" x2="1667.9" y2="859.5" stroke="#000" stroke-width="2.3"/>
<line x1="1831.8" y1="851" x2="1831.8" y2="859.5" stroke="#000" stroke-width="2.3"/>
<line x1="1995.7" y1="851" x2="1995.7" y2="859.5" stroke="#000" stroke-width="2.3"/>
<rect x="717.5" y="880.7" width="1376.5" height="240.7" fill="none" stroke="#000" stroke-width="2.6"/>
<line x1="848.6" y1="1121.4" x2="848.6" y2="1129.9" stroke="#000" stroke-width="2.3"/>
<line x1="1012.5" y1="1121.4" x2="1012.5" y2="1129.9" stroke="#000" stroke-width="2.3"/>
<line x1="1176.3" y1="1121.4" x2="1176.3" y2="1129.9" stroke="#000" stroke-width="2.3"/>
<line x1="1340.2" y1="1121.4" x2="1340.2" y2="1129.9" stroke="#000" stroke-width="2.3"/>
<line x1="1504.1" y1="1121.4" x2="1504.1" y2="1129.9" stroke="#000" stroke-width="2.3"/>
<line x1="1667.9" y1="1121.4" x2="1667.9" y2="1129.9" stroke="#000" stroke-width="2.3"/>
<line x1="1831.8" y1="1121.4" x2="1831.8" y2="1129.9" stroke="#000" stroke-width="2.3"/>
<line x1="1995.7" y1="1121.4" x2="1995.7" y2="1129.9" stroke="#000" stroke-width="2.3"/>
<line x1="709" y1="135" x2="717.5" y2="135" stroke="#000" stroke-width="2.3"/>
<text x="698" y="147" text-anchor="end" style="font-family:'DejaVu Sans',sans-serif;font-weight:bold;font-size:32px">5.0</text>
<line x1="709" y1="228" x2="717.5" y2="228" stroke="#000" stroke-width="2.3"/>
<text x="698" y="240" text-anchor="end" style="font-family:'DejaVu Sans',sans-serif;font-weight:bold;font-size:32px">2.5</text>
<line x1="709" y1="580" x2="717.5" y2="580" stroke="#000" stroke-width="2.3"/>
<line x1="709" y1="459.4" x2="717.5" y2="459.4" stroke="#000" stroke-width="2.3"/>
<line x1="709" y1="338.8" x2="717.5" y2="338.8" stroke="#000" stroke-width="2.3"/>
<line x1="712.9" y1="543.7" x2="717.5" y2="543.7" stroke="#000" stroke-width="1.8"/>
<line x1="712.9" y1="522.5" x2="717.5" y2="522.5" stroke="#000" stroke-width="1.8"/>
<line x1="712.9" y1="507.4" x2="717.5" y2="507.4" stroke="#000" stroke-width="1.8"/>
<line x1="712.9" y1="495.7" x2="717.5" y2="495.7" stroke="#000" stroke-width="1.8"/>
<line x1="712.9" y1="486.2" x2="717.5" y2="486.2" stroke="#000" stroke-width="1.8"/>
<line x1="712.9" y1="478.1" x2="717.5" y2="478.1" stroke="#000" stroke-width="1.8"/>
<line x1="712.9" y1="471.1" x2="717.5" y2="471.1" stroke="#000" stroke-width="1.8"/>
<line x1="712.9" y1="464.9" x2="717.5" y2="464.9" stroke="#000" stroke-width="1.8"/>
<line x1="712.9" y1="423.1" x2="717.5" y2="423.1" stroke="#000" stroke-width="1.8"/>
<line x1="712.9" y1="401.9" x2="717.5" y2="401.9" stroke="#000" stroke-width="1.8"/>
<line x1="712.9" y1="386.8" x2="717.5" y2="386.8" stroke="#000" stroke-width="1.8"/>
<line x1="712.9" y1="375.1" x2="717.5" y2="375.1" stroke="#000" stroke-width="1.8"/>
<line x1="712.9" y1="365.6" x2="717.5" y2="365.6" stroke="#000" stroke-width="1.8"/>
<line x1="712.9" y1="357.5" x2="717.5" y2="357.5" stroke="#000" stroke-width="1.8"/>
<line x1="712.9" y1="350.5" x2="717.5" y2="350.5" stroke="#000" stroke-width="1.8"/>
<line x1="712.9" y1="344.3" x2="717.5" y2="344.3" stroke="#000" stroke-width="1.8"/>
<text x="697" y="351.1" text-anchor="end" style="font-family:'DejaVu Sans',sans-serif;font-weight:bold;font-size:32.7px">10<tspan dy="-13" style="font-size:22.5px">1</tspan></text>
<text x="697" y="471.7" text-anchor="end" style="font-family:'DejaVu Sans',sans-serif;font-weight:bold;font-size:32.7px">10<tspan dy="-13" style="font-size:22.5px">0</tspan></text>
<text x="697" y="592.3" text-anchor="end" style="font-family:'DejaVu Sans',sans-serif;font-weight:bold;font-size:32.7px">10<tspan dy="-13" style="font-size:22.5px">−1</tspan></text>
<line x1="709" y1="844.5" x2="717.5" y2="844.5" stroke="#000" stroke-width="2.3"/>
<text x="698" y="856.5" text-anchor="end" style="font-family:'DejaVu Sans',sans-serif;font-weight:bold;font-size:32px">0</text>
<line x1="709" y1="703.1" x2="717.5" y2="703.1" stroke="#000" stroke-width="2.3"/>
<text x="698" y="715.1" text-anchor="end" style="font-family:'DejaVu Sans',sans-serif;font-weight:bold;font-size:32px">5</text>
<line x1="709" y1="1079" x2="717.5" y2="1079" stroke="#000" stroke-width="2.3"/>
<text x="698" y="1091" text-anchor="end" style="font-family:'DejaVu Sans',sans-serif;font-weight:bold;font-size:32px">2</text>
<line x1="709" y1="935.7" x2="717.5" y2="935.7" stroke="#000" stroke-width="2.3"/>
<text x="698" y="947.7" text-anchor="end" style="font-family:'DejaVu Sans',sans-serif;font-weight:bold;font-size:32px">3</text>
<text x="848.6" y="1164.5" text-anchor="middle" style="font-family:'DejaVu Sans',sans-serif;font-weight:bold;font-size:32px">2.50</text>
<text x="1012.5" y="1164.5" text-anchor="middle" style="font-family:'DejaVu Sans',sans-serif;font-weight:bold;font-size:32px">2.75</text>
<text x="1176.3" y="1164.5" text-anchor="middle" style="font-family:'DejaVu Sans',sans-serif;font-weight:bold;font-size:32px">3.00</text>
<text x="1340.2" y="1164.5" text-anchor="middle" style="font-family:'DejaVu Sans',sans-serif;font-weight:bold;font-size:32px">3.25</text>
<text x="1504.1" y="1164.5" text-anchor="middle" style="font-family:'DejaVu Sans',sans-serif;font-weight:bold;font-size:32px">3.50</text>
<text x="1667.9" y="1164.5" text-anchor="middle" style="font-family:'DejaVu Sans',sans-serif;font-weight:bold;font-size:32px">3.75</text>
<text x="1831.8" y="1164.5" text-anchor="middle" style="font-family:'DejaVu Sans',sans-serif;font-weight:bold;font-size:32px">4.00</text>
<text x="1995.7" y="1164.5" text-anchor="middle" style="font-family:'DejaVu Sans',sans-serif;font-weight:bold;font-size:32px">4.25</text>
<text x="1405" y="1210" text-anchor="middle" style="font-family:'DejaVu Sans',sans-serif;font-weight:bold;font-size:37px">t [s]</text>
<text transform="translate(624.2,189.6) rotate(-90)" style="font-family:'DejaVu Sans',sans-serif;font-weight:bold;font-size:37.4px" text-anchor="middle">Gas [a.u.]</text>
<text transform="translate(596,486) rotate(-90)" style="font-family:'DejaVu Sans',sans-serif;font-weight:bold;font-size:37px" >ν</text>
<text transform="translate(607,460) rotate(-90)" style="font-family:'DejaVu Sans',sans-serif;font-weight:bold;font-size:25px" >e</text>
<text transform="translate(582,455) rotate(-90)" style="font-family:'DejaVu Sans',sans-serif;font-weight:bold;font-size:27px" >*</text>
<text transform="translate(659.5,828) rotate(-90)" style="font-family:'DejaVu Sans',sans-serif;font-weight:bold;font-size:39px" >D</text>
<text transform="translate(664.2,793) rotate(-90)" style="font-family:'DejaVu Sans',sans-serif;font-weight:bold;font-size:26px" >α</text>
<text transform="translate(658.8,766) rotate(-90)" style="font-family:'DejaVu Sans',sans-serif;font-weight:bold;font-size:38px" >[a. u.</text>
<text transform="translate(658.8,652) rotate(-90)" style="font-family:'DejaVu Sans',sans-serif;font-weight:bold;font-size:38px" >]</text>
<text transform="translate(659.5,1103) rotate(-90)" style="font-family:'DejaVu Sans',sans-serif;font-weight:bold;font-size:39px" >P</text>
<text transform="translate(664.2,1071.5) rotate(-90)" style="font-family:'DejaVu Sans',sans-serif;font-weight:bold;font-size:26px" >rad</text>
<text transform="translate(658.8,1013) rotate(-90)" style="font-family:'DejaVu Sans',sans-serif;font-weight:bold;font-size:38px" >[MW]</text>
<text x="731" y="116" style="font-family:'Liberation Sans',Arial,sans-serif;font-weight:bold;font-size:48px">(b)</text>
<text x="731" y="387" style="font-family:'Liberation Sans',Arial,sans-serif;font-weight:bold;font-size:48px">(c)</text>
<text x="732" y="655" style="font-family:'Liberation Sans',Arial,sans-serif;font-weight:bold;font-size:48px">(d)</text>
<text x="733.5" y="923" style="font-family:'Liberation Sans',Arial,sans-serif;font-weight:bold;font-size:48px">(e)</text>
<text transform="translate(947,645.5) scale(1.0,1)" fill="#0070c0" style="font-family:'DejaVu Serif',serif;font-weight:bold;font-style:italic;font-size:37px">f</text>
<text transform="translate(968.5,652.5) scale(0.95,1)" fill="#0070c0" style="font-family:'Liberation Serif',serif;font-weight:bold;font-style:italic;font-size:27px">ELM</text>
<text transform="translate(1036.5,645.5) scale(1.0,1)" fill="#0070c0" style="font-family:'DejaVu Sans',sans-serif;font-size:38px">=</text>
<text transform="translate(1076.8,645.5) scale(1.215,1)" fill="#0070c0" style="font-family:'Liberation Serif',serif;font-weight:bold;font-size:37px">107</text>
<text transform="translate(1152.5,645.5) scale(1.08,1)" fill="#0070c0" style="font-family:'Liberation Serif',serif;font-weight:bold;font-style:italic;font-size:37px">Hz</text>
<text transform="translate(1396.7,649) scale(1.0,1)" fill="#c00000" style="font-family:'DejaVu Serif',serif;font-weight:bold;font-style:italic;font-size:37px">f</text>
<text transform="translate(1418.2,656) scale(0.95,1)" fill="#c00000" style="font-family:'Liberation Serif',serif;font-weight:bold;font-style:italic;font-size:27px">ELM</text>
<text transform="translate(1486.2,649) scale(1.0,1)" fill="#c00000" style="font-family:'DejaVu Sans',sans-serif;font-size:38px">=</text>
<text transform="translate(1526.5,649) scale(1.215,1)" fill="#c00000" style="font-family:'Liberation Serif',serif;font-weight:bold;font-size:37px">117</text>
<text transform="translate(1602.2,649) scale(1.08,1)" fill="#c00000" style="font-family:'Liberation Serif',serif;font-weight:bold;font-style:italic;font-size:37px">Hz</text>
<text x="1010" y="48.5" fill="#0070c0" style="font-family:'Liberation Sans',Arial,sans-serif;font-weight:bold;font-size:48px">low</text>
<text transform="translate(1102.5,48.5) scale(0.9,1)" fill="#0070c0" style="font-family:'DejaVu Serif',serif;font-style:italic;font-weight:bold;font-size:47px">ν</text>
<text x="1132.5" y="59" fill="#0070c0" style="font-family:'Liberation Serif',serif;font-style:italic;font-weight:bold;font-size:40px">e</text>
<text x="1133" y="33" fill="#0070c0" style="font-family:'DejaVu Sans',sans-serif;font-weight:bold;font-size:25px">*</text>
<text x="1467" y="45.5" fill="#c00000" style="font-family:'Liberation Sans',Arial,sans-serif;font-weight:bold;font-size:48px">high</text>
<text transform="translate(1581,45.3) scale(0.9,1)" fill="#c00000" style="font-family:'DejaVu Serif',serif;font-style:italic;font-weight:bold;font-size:47px">ν</text>
<text x="1611" y="56.3" fill="#c00000" style="font-family:'Liberation Serif',serif;font-style:italic;font-weight:bold;font-size:40px">e</text>
<text x="1611.5" y="30" fill="#c00000" style="font-family:'DejaVu Sans',sans-serif;font-weight:bold;font-size:25px">*</text>
<rect x="981.4" y="64.8" width="192.9" height="1055.2" fill="#0070c0" fill-opacity="0.3"/>
<rect x="1445.4" y="70" width="190.8" height="1052.7" fill="#c00000" fill-opacity="0.3"/>
</svg>
</body></html>
